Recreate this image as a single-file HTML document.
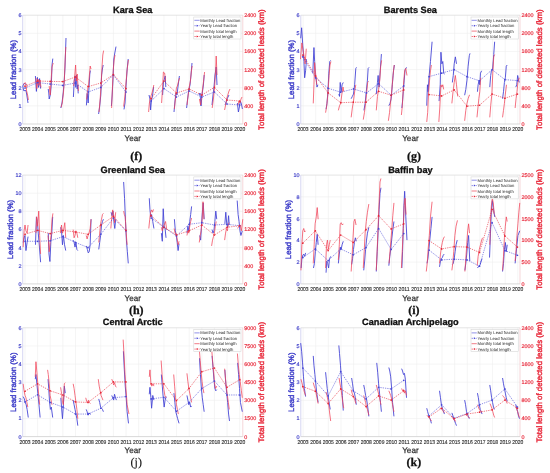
<!DOCTYPE html><html><head><meta charset="utf-8"><style>html,body{margin:0;padding:0;background:#fff;width:550px;height:473px;overflow:hidden}</style></head><body><svg width="550" height="473" viewBox="0 0 550 473" style="display:block" text-rendering="geometricPrecision">
<rect width="550" height="473" fill="#fff"/>
<g stroke="#efefef" stroke-width="0.6"><line x1="25" y1="15.2" x2="25" y2="124"/><line x1="37.63" y1="15.2" x2="37.63" y2="124"/><line x1="50.26" y1="15.2" x2="50.26" y2="124"/><line x1="62.89" y1="15.2" x2="62.89" y2="124"/><line x1="75.52" y1="15.2" x2="75.52" y2="124"/><line x1="88.15" y1="15.2" x2="88.15" y2="124"/><line x1="100.78" y1="15.2" x2="100.78" y2="124"/><line x1="113.41" y1="15.2" x2="113.41" y2="124"/><line x1="126.04" y1="15.2" x2="126.04" y2="124"/><line x1="138.67" y1="15.2" x2="138.67" y2="124"/><line x1="151.3" y1="15.2" x2="151.3" y2="124"/><line x1="163.93" y1="15.2" x2="163.93" y2="124"/><line x1="176.56" y1="15.2" x2="176.56" y2="124"/><line x1="189.19" y1="15.2" x2="189.19" y2="124"/><line x1="201.82" y1="15.2" x2="201.82" y2="124"/><line x1="214.45" y1="15.2" x2="214.45" y2="124"/><line x1="227.08" y1="15.2" x2="227.08" y2="124"/><line x1="239.71" y1="15.2" x2="239.71" y2="124"/><line x1="22.7" y1="105.87" x2="242.8" y2="105.87"/><line x1="22.7" y1="87.73" x2="242.8" y2="87.73"/><line x1="22.7" y1="69.6" x2="242.8" y2="69.6"/><line x1="22.7" y1="51.47" x2="242.8" y2="51.47"/><line x1="22.7" y1="33.33" x2="242.8" y2="33.33"/></g>
<line x1="22.7" y1="15.2" x2="242.8" y2="15.2" stroke="#d8d8d8" stroke-width="0.7"/>
<line x1="22.7" y1="124" x2="242.8" y2="124" stroke="#c8c8c8" stroke-width="0.7"/>
<line x1="22.7" y1="15.2" x2="22.7" y2="124" stroke="#c4c4ee" stroke-width="0.7"/>
<line x1="242.8" y1="15.2" x2="242.8" y2="124" stroke="#f0c4c8" stroke-width="0.7"/>
<polyline points="26.4,85 24.4,83 22.8,86 23.6,90.6 26,90.6 26.8,95 28,103" fill="none" stroke="#4646d6" stroke-width="0.9" stroke-linejoin="round"/>
<polyline points="35.4,76 36.4,91.4 37.4,77.4 38.6,87.4 39.6,78.6 40.6,88.6" fill="none" stroke="#4646d6" stroke-width="0.9" stroke-linejoin="round"/>
<polyline points="48.2,89 48.8,93 49.2,99 50.4,94.6 51.4,83 52,65 52.8,58.6" fill="none" stroke="#4646d6" stroke-width="0.9" stroke-linejoin="round"/>
<polyline points="60.8,108 62,103 63.2,93 64.2,81 65,67 66,38" fill="none" stroke="#4646d6" stroke-width="0.9" stroke-linejoin="round"/>
<polyline points="73.4,97 74.2,81.4 75,76 75.8,87.4 76.4,75 77.2,89 77.8,85 78.2,93.4" fill="none" stroke="#4646d6" stroke-width="0.9" stroke-linejoin="round"/>
<polyline points="86.4,105.4 87.2,93.4 88.2,103 89,87.4 89.8,74 90.4,70.6" fill="none" stroke="#4646d6" stroke-width="0.9" stroke-linejoin="round"/>
<polyline points="98.6,114 99.6,107 100.8,95 101.6,75 102.4,69 103.2,65" fill="none" stroke="#4646d6" stroke-width="0.9" stroke-linejoin="round"/>
<polyline points="111.4,106 112.2,95 113,79 113.8,59 114.8,53 116,46.6" fill="none" stroke="#4646d6" stroke-width="0.9" stroke-linejoin="round"/>
<polyline points="124,109.4 125,103 126,86 127,71 128.2,59" fill="none" stroke="#4646d6" stroke-width="0.9" stroke-linejoin="round"/>
<polyline points="149,95 150,99 150.6,110 151.4,101 152.6,95 153.6,87" fill="none" stroke="#4646d6" stroke-width="0.9" stroke-linejoin="round"/>
<polyline points="162.6,95 163.4,83 164.6,78 165.2,76 165.8,87" fill="none" stroke="#4646d6" stroke-width="0.9" stroke-linejoin="round"/>
<polyline points="174,112 175,101 176,93 177,95 178.2,85 179.4,76" fill="none" stroke="#4646d6" stroke-width="0.9" stroke-linejoin="round"/>
<polyline points="186.6,108 187.6,99 188.8,90 190,85 191,75 192,63" fill="none" stroke="#4646d6" stroke-width="0.9" stroke-linejoin="round"/>
<polyline points="199,95 200,93 201,106 202,95 203.4,85 204.2,75" fill="none" stroke="#4646d6" stroke-width="0.9" stroke-linejoin="round"/>
<polyline points="212,105 213,95 214,87 215,75 216.2,67 217,85" fill="none" stroke="#4646d6" stroke-width="0.9" stroke-linejoin="round"/>
<polyline points="225,105 226,103 227,99 228,97 229,95" fill="none" stroke="#4646d6" stroke-width="0.9" stroke-linejoin="round"/>
<polyline points="237.4,103 238.4,112 239.4,107 240.4,101 241.4,104 242.4,109" fill="none" stroke="#4646d6" stroke-width="0.9" stroke-linejoin="round"/>
<polyline points="23.6,84.6 25.2,82.6 26.8,85.4 26.4,90 27.6,95 28.4,100" fill="none" stroke="#f04458" stroke-width="0.95" stroke-linejoin="round" stroke-opacity="0.8"/>
<polyline points="36,78 36.8,88.6 38,79 39,85.4 40,80 41,87.4" fill="none" stroke="#f04458" stroke-width="0.95" stroke-linejoin="round" stroke-opacity="0.8"/>
<polyline points="49.2,86 49.6,90 50.2,95 51.2,79 52,67 53.2,63" fill="none" stroke="#f04458" stroke-width="0.95" stroke-linejoin="round" stroke-opacity="0.8"/>
<polyline points="61.2,107.4 62.4,102 63.6,91 64.4,79 65.2,59 65.8,47" fill="none" stroke="#f04458" stroke-width="0.95" stroke-linejoin="round" stroke-opacity="0.8"/>
<polyline points="73.6,86 74.6,77 75.6,65 76.4,81 77.2,74 78.4,91" fill="none" stroke="#f04458" stroke-width="0.95" stroke-linejoin="round" stroke-opacity="0.8"/>
<polyline points="86.6,99.4 87.6,89.4 88.6,85 89.4,75 90.2,66 91,69" fill="none" stroke="#f04458" stroke-width="0.95" stroke-linejoin="round" stroke-opacity="0.8"/>
<polyline points="99,112 100,101 101,87 102,67 102.8,55 103.6,50.6" fill="none" stroke="#f04458" stroke-width="0.95" stroke-linejoin="round" stroke-opacity="0.8"/>
<polyline points="111.6,108 112.4,89 113.2,71 114,61 115,55" fill="none" stroke="#f04458" stroke-width="0.95" stroke-linejoin="round" stroke-opacity="0.8"/>
<polyline points="123.6,106.6 124.8,97 126,83 127.2,69 128.4,60" fill="none" stroke="#f04458" stroke-width="0.95" stroke-linejoin="round" stroke-opacity="0.8"/>
<polyline points="148.6,112 149.4,103 150.6,97 152,93 153,89 153.8,85" fill="none" stroke="#f04458" stroke-width="0.95" stroke-linejoin="round" stroke-opacity="0.8"/>
<polyline points="161.6,103 162.6,87 163.4,72 164.6,73 165.6,81" fill="none" stroke="#f04458" stroke-width="0.95" stroke-linejoin="round" stroke-opacity="0.8"/>
<polyline points="174.4,109 175.4,99 176.4,88 177.4,86 178.6,81 179.6,78" fill="none" stroke="#f04458" stroke-width="0.95" stroke-linejoin="round" stroke-opacity="0.8"/>
<polyline points="187,105 188.2,95 189.2,87 190.4,81 191.4,71 192.2,66" fill="none" stroke="#f04458" stroke-width="0.95" stroke-linejoin="round" stroke-opacity="0.8"/>
<polyline points="199.4,99 200.6,105 201.6,97 202.6,89 203.8,79 204.6,72" fill="none" stroke="#f04458" stroke-width="0.95" stroke-linejoin="round" stroke-opacity="0.8"/>
<polyline points="212.2,108 213.4,99 214.6,87 215.6,71 216.2,56 217,75" fill="none" stroke="#f04458" stroke-width="0.95" stroke-linejoin="round" stroke-opacity="0.8"/>
<polyline points="224.6,110 225.6,105 226.6,99 227.8,95 229,91 230,89" fill="none" stroke="#f04458" stroke-width="0.95" stroke-linejoin="round" stroke-opacity="0.8"/>
<polyline points="238,105 239,101 240,103 241,99 242,97" fill="none" stroke="#f04458" stroke-width="0.95" stroke-linejoin="round" stroke-opacity="0.8"/>
<polyline points="25,88 37.6,82.6 50.2,84 62.8,85.4 75.4,83 88.2,92 100.8,87.4 113.4,75 126,92" fill="none" stroke="#4646d6" stroke-width="0.6" stroke-linejoin="round" stroke-dasharray="1.3 1"/>
<g fill="#4646d6"><circle cx="25" cy="88" r="0.85"/><circle cx="37.6" cy="82.6" r="0.85"/><circle cx="50.2" cy="84" r="0.85"/><circle cx="62.8" cy="85.4" r="0.85"/><circle cx="75.4" cy="83" r="0.85"/><circle cx="88.2" cy="92" r="0.85"/><circle cx="100.8" cy="87.4" r="0.85"/><circle cx="113.4" cy="75" r="0.85"/><circle cx="126" cy="92" r="0.85"/></g>
<polyline points="151.2,101 164,88.6 176.4,97 189.2,91 201.8,97 214.4,92 227,104 239.6,105" fill="none" stroke="#4646d6" stroke-width="0.6" stroke-linejoin="round" stroke-dasharray="1.3 1"/>
<g fill="#4646d6"><circle cx="151.2" cy="101" r="0.85"/><circle cx="164" cy="88.6" r="0.85"/><circle cx="176.4" cy="97" r="0.85"/><circle cx="189.2" cy="91" r="0.85"/><circle cx="201.8" cy="97" r="0.85"/><circle cx="214.4" cy="92" r="0.85"/><circle cx="227" cy="104" r="0.85"/><circle cx="239.6" cy="105" r="0.85"/></g>
<polyline points="25,86.2 37.6,81 50.2,81.4 62.8,81.6 75.4,77 88.2,86.6 100.8,83 113.4,74.6 126,88.6" fill="none" stroke="#e62535" stroke-width="0.6" stroke-linejoin="round" stroke-dasharray="1.3 1"/>
<g fill="#e62535"><circle cx="25" cy="86.2" r="0.85"/><circle cx="37.6" cy="81" r="0.85"/><circle cx="50.2" cy="81.4" r="0.85"/><circle cx="62.8" cy="81.6" r="0.85"/><circle cx="75.4" cy="77" r="0.85"/><circle cx="88.2" cy="86.6" r="0.85"/><circle cx="100.8" cy="83" r="0.85"/><circle cx="113.4" cy="74.6" r="0.85"/><circle cx="126" cy="88.6" r="0.85"/></g>
<polyline points="151.2,98.6 164,81 176.4,93 189.2,89 201.8,95 214.4,87.4 227,100 239.6,101" fill="none" stroke="#e62535" stroke-width="0.6" stroke-linejoin="round" stroke-dasharray="1.3 1"/>
<g fill="#e62535"><circle cx="151.2" cy="98.6" r="0.85"/><circle cx="164" cy="81" r="0.85"/><circle cx="176.4" cy="93" r="0.85"/><circle cx="189.2" cy="89" r="0.85"/><circle cx="201.8" cy="95" r="0.85"/><circle cx="214.4" cy="87.4" r="0.85"/><circle cx="227" cy="100" r="0.85"/><circle cx="239.6" cy="101" r="0.85"/></g>
<g font-family="Liberation Sans, sans-serif" font-size="5.6" fill="#333" stroke="#333" stroke-width="0.14" text-anchor="middle"><text x="25" y="131.3" textLength="11.1" lengthAdjust="spacingAndGlyphs">2003</text><text x="37.63" y="131.3" textLength="11.1" lengthAdjust="spacingAndGlyphs">2004</text><text x="50.26" y="131.3" textLength="11.1" lengthAdjust="spacingAndGlyphs">2005</text><text x="62.89" y="131.3" textLength="11.1" lengthAdjust="spacingAndGlyphs">2006</text><text x="75.52" y="131.3" textLength="11.1" lengthAdjust="spacingAndGlyphs">2007</text><text x="88.15" y="131.3" textLength="11.1" lengthAdjust="spacingAndGlyphs">2008</text><text x="100.78" y="131.3" textLength="11.1" lengthAdjust="spacingAndGlyphs">2009</text><text x="113.41" y="131.3" textLength="11.1" lengthAdjust="spacingAndGlyphs">2010</text><text x="126.04" y="131.3" textLength="11.1" lengthAdjust="spacingAndGlyphs">2011</text><text x="138.67" y="131.3" textLength="11.1" lengthAdjust="spacingAndGlyphs">2012</text><text x="151.3" y="131.3" textLength="11.1" lengthAdjust="spacingAndGlyphs">2013</text><text x="163.93" y="131.3" textLength="11.1" lengthAdjust="spacingAndGlyphs">2014</text><text x="176.56" y="131.3" textLength="11.1" lengthAdjust="spacingAndGlyphs">2015</text><text x="189.19" y="131.3" textLength="11.1" lengthAdjust="spacingAndGlyphs">2016</text><text x="201.82" y="131.3" textLength="11.1" lengthAdjust="spacingAndGlyphs">2017</text><text x="214.45" y="131.3" textLength="11.1" lengthAdjust="spacingAndGlyphs">2018</text><text x="227.08" y="131.3" textLength="11.1" lengthAdjust="spacingAndGlyphs">2019</text><text x="239.71" y="131.3" textLength="11.1" lengthAdjust="spacingAndGlyphs">2020</text></g>
<g font-family="Liberation Sans, sans-serif" font-size="5.4" fill="#3c3cc8" stroke="#3c3cc8" stroke-width="0.18" text-anchor="end"><text x="21.5" y="125.9">0</text><text x="21.5" y="107.77">1</text><text x="21.5" y="89.63">2</text><text x="21.5" y="71.5">3</text><text x="21.5" y="53.37">4</text><text x="21.5" y="35.23">5</text><text x="21.5" y="17.1">6</text></g>
<g font-family="Liberation Sans, sans-serif" font-size="5.4" fill="#e8283a" stroke="#e8283a" stroke-width="0.18"><text x="244.3" y="125.9">0</text><text x="244.3" y="107.77">400</text><text x="244.3" y="89.63">800</text><text x="244.3" y="71.5">1200</text><text x="244.3" y="53.37">1600</text><text x="244.3" y="35.23">2000</text><text x="244.3" y="17.1">2400</text></g>
<text x="132.75" y="12.7" font-family="Liberation Sans, sans-serif" font-size="9.2" font-weight="bold" text-anchor="middle" fill="#111" stroke="#111" stroke-width="0.3">Kara Sea</text>
<text x="132.75" y="140.8" font-family="Liberation Sans, sans-serif" font-size="8.1" text-anchor="middle" fill="#333" stroke="#333" stroke-width="0.25">Year</text>
<text transform="translate(15.5,69.6) rotate(-90)" font-family="Liberation Sans, sans-serif" font-size="7.8" text-anchor="middle" fill="#3c3cc8" stroke="#3c3cc8" stroke-width="0.4">Lead fraction (%)</text>
<text transform="translate(264.3,69.6) rotate(-90)" font-family="Liberation Sans, sans-serif" font-size="7.9" text-anchor="middle" fill="#e8283a" stroke="#e8283a" stroke-width="0.4">Total length of detected leads (km)</text>
<text x="136.25" y="159.6" font-family="Liberation Serif, serif" font-size="12" font-weight="bold" text-anchor="middle" fill="#111" stroke="#111" stroke-width="0.25">(f)</text>
<rect x="193.8" y="17" width="47.2" height="22" fill="#fff" stroke="#d0d0d0" stroke-width="0.5"/>
<line x1="194.4" y1="20.3" x2="199.6" y2="20.3" stroke="#4646d6" stroke-width="0.6"/>
<text x="200.3" y="21.8" font-family="Liberation Sans, sans-serif" font-size="4.2" fill="#2a2a2a">Monthly Lead fraction</text>
<line x1="194.4" y1="25.7" x2="199.6" y2="25.7" stroke="#4646d6" stroke-width="0.6" stroke-dasharray="1.4 0.8"/>
<path d="M196.7,24.7 L198.4,25.7 L196.7,26.7Z" fill="#4646d6"/>
<text x="200.3" y="27.2" font-family="Liberation Sans, sans-serif" font-size="4.2" fill="#2a2a2a">Yearly Lead fraction</text>
<line x1="194.4" y1="31.1" x2="199.6" y2="31.1" stroke="#e62535" stroke-width="0.6"/>
<text x="200.3" y="32.6" font-family="Liberation Sans, sans-serif" font-size="4.2" fill="#2a2a2a">Monthly total length</text>
<line x1="194.4" y1="36.5" x2="199.6" y2="36.5" stroke="#e62535" stroke-width="0.6" stroke-dasharray="1.4 0.8"/>
<path d="M196.7,35.5 L198.4,36.5 L196.7,37.5Z" fill="#e62535"/>
<text x="200.3" y="38" font-family="Liberation Sans, sans-serif" font-size="4.2" fill="#2a2a2a">Yearly total length</text>
<g stroke="#efefef" stroke-width="0.6"><line x1="303.1" y1="15.2" x2="303.1" y2="124"/><line x1="315.73" y1="15.2" x2="315.73" y2="124"/><line x1="328.36" y1="15.2" x2="328.36" y2="124"/><line x1="340.99" y1="15.2" x2="340.99" y2="124"/><line x1="353.62" y1="15.2" x2="353.62" y2="124"/><line x1="366.25" y1="15.2" x2="366.25" y2="124"/><line x1="378.88" y1="15.2" x2="378.88" y2="124"/><line x1="391.51" y1="15.2" x2="391.51" y2="124"/><line x1="404.14" y1="15.2" x2="404.14" y2="124"/><line x1="416.77" y1="15.2" x2="416.77" y2="124"/><line x1="429.4" y1="15.2" x2="429.4" y2="124"/><line x1="442.03" y1="15.2" x2="442.03" y2="124"/><line x1="454.66" y1="15.2" x2="454.66" y2="124"/><line x1="467.29" y1="15.2" x2="467.29" y2="124"/><line x1="479.92" y1="15.2" x2="479.92" y2="124"/><line x1="492.55" y1="15.2" x2="492.55" y2="124"/><line x1="505.18" y1="15.2" x2="505.18" y2="124"/><line x1="517.81" y1="15.2" x2="517.81" y2="124"/><line x1="300.8" y1="105.87" x2="520" y2="105.87"/><line x1="300.8" y1="87.73" x2="520" y2="87.73"/><line x1="300.8" y1="69.6" x2="520" y2="69.6"/><line x1="300.8" y1="51.47" x2="520" y2="51.47"/><line x1="300.8" y1="33.33" x2="520" y2="33.33"/></g>
<line x1="300.8" y1="15.2" x2="520" y2="15.2" stroke="#d8d8d8" stroke-width="0.7"/>
<line x1="300.8" y1="124" x2="520" y2="124" stroke="#c8c8c8" stroke-width="0.7"/>
<line x1="300.8" y1="15.2" x2="300.8" y2="124" stroke="#c4c4ee" stroke-width="0.7"/>
<line x1="520" y1="15.2" x2="520" y2="124" stroke="#f0c4c8" stroke-width="0.7"/>
<polyline points="300.7,38.26 301.63,27.79 302.79,45.23 303.95,61.51 304.65,77.79 305.58,70.81 306.51,59.19" fill="none" stroke="#4646d6" stroke-width="0.9" stroke-linejoin="round"/>
<polyline points="312.79,73.14 313.95,47.56 314.65,61.51 315.35,75.47 316.28,80.12 316.98,87.09 317.91,84.77" fill="none" stroke="#4646d6" stroke-width="0.9" stroke-linejoin="round"/>
<polyline points="326.05,109.19 326.98,103.37 327.91,91.74 328.84,73.14 329.77,61.51 330.7,60.35" fill="none" stroke="#4646d6" stroke-width="0.9" stroke-linejoin="round"/>
<polyline points="338.84,94.07 339.53,96.4 340.23,82.44 341.16,91.74 342.09,84.77 343.26,82.44" fill="none" stroke="#4646d6" stroke-width="0.9" stroke-linejoin="round"/>
<polyline points="351.16,98.72 352.33,96.4 353.49,94.07 354.65,84.77 355.81,68.49 356.51,67.33" fill="none" stroke="#4646d6" stroke-width="0.9" stroke-linejoin="round"/>
<polyline points="363.95,110.35 365.12,103.37 366.28,91.74 367.44,80.12 368.14,68.49 369.07,67.33" fill="none" stroke="#4646d6" stroke-width="0.9" stroke-linejoin="round"/>
<polyline points="376.28,94.07 377.44,82.44 378.14,75.47 379.07,87.09 380.23,70.81 381.4,54.07" fill="none" stroke="#4646d6" stroke-width="0.9" stroke-linejoin="round"/>
<polyline points="388.84,105.7 390,103.37 391.16,98.72 392.33,84.77 393.49,70.81 394.42,65" fill="none" stroke="#4646d6" stroke-width="0.9" stroke-linejoin="round"/>
<polyline points="401.86,108.02 402.56,101.05 403.26,91.74 404.19,80.12 405.12,69.65 406.51,67.33" fill="none" stroke="#4646d6" stroke-width="0.9" stroke-linejoin="round"/>
<polyline points="426.74,105.7 427.44,84.77 428.14,91.74 429.07,76.63 430.47,61.51 432.09,41.74" fill="none" stroke="#4646d6" stroke-width="0.9" stroke-linejoin="round"/>
<polyline points="439.07,101.05 440.23,84.77 440.93,52.21 441.86,63.84 442.79,61.51 443.72,73.14 444.42,74.3" fill="none" stroke="#4646d6" stroke-width="0.9" stroke-linejoin="round"/>
<polyline points="452.33,82.44 453.26,75.47 454.19,63.84 455.35,56.86 456.51,63.84" fill="none" stroke="#4646d6" stroke-width="0.9" stroke-linejoin="round"/>
<polyline points="464.65,95.23 465.81,89.42 466.98,80.12 468.14,66.16 469.3,55.7 470,53.37" fill="none" stroke="#4646d6" stroke-width="0.9" stroke-linejoin="round"/>
<polyline points="477.44,91.74 478.14,84.77 479.07,80.12 479.77,84.77 480.47,73.14 481.63,70.81" fill="none" stroke="#4646d6" stroke-width="0.9" stroke-linejoin="round"/>
<polyline points="489.77,87.09 490.7,75.47 491.4,70.81 492.56,69.65 493.72,54.53 494.65,41.74" fill="none" stroke="#4646d6" stroke-width="0.9" stroke-linejoin="round"/>
<polyline points="502.56,98.72 503.49,91.74 504.42,82.44 505.35,77.79 506.28,66.16 507.21,65" fill="none" stroke="#4646d6" stroke-width="0.9" stroke-linejoin="round"/>
<polyline points="515.81,87.09 516.74,84.77 517.67,75.47 518.6,80.12 519.3,82.44" fill="none" stroke="#4646d6" stroke-width="0.9" stroke-linejoin="round"/>
<polyline points="300.47,59.19 301.86,42.91 303.02,49.88 304.19,56.86 305.12,63.84 306.28,48.72" fill="none" stroke="#f04458" stroke-width="0.95" stroke-linejoin="round" stroke-opacity="0.8"/>
<polyline points="313.26,103.37 313.95,84.77 314.65,62.67 315.35,70.81 316.05,77.79 316.74,84.77" fill="none" stroke="#f04458" stroke-width="0.95" stroke-linejoin="round" stroke-opacity="0.8"/>
<polyline points="325.58,112.67 326.74,105.7 327.91,94.07 329.07,75.47 330,65 330.93,61.51" fill="none" stroke="#f04458" stroke-width="0.95" stroke-linejoin="round" stroke-opacity="0.8"/>
<polyline points="338.37,110.35 339.53,105.7 340.7,103.37 341.86,94.07 343.02,87.09 343.72,91.74" fill="none" stroke="#f04458" stroke-width="0.95" stroke-linejoin="round" stroke-opacity="0.8"/>
<polyline points="351.16,117.33 352.33,108.02 353.49,101.05 354.65,91.74 355.81,84.77" fill="none" stroke="#f04458" stroke-width="0.95" stroke-linejoin="round" stroke-opacity="0.8"/>
<polyline points="363.26,119.65 364.42,112.67 365.58,103.37 366.74,91.74 367.67,82.44 368.6,81.28" fill="none" stroke="#f04458" stroke-width="0.95" stroke-linejoin="round" stroke-opacity="0.8"/>
<polyline points="376.28,110.35 377.44,96.4 378.6,89.42 379.77,80.12 380.7,66.16 381.63,60.35" fill="none" stroke="#f04458" stroke-width="0.95" stroke-linejoin="round" stroke-opacity="0.8"/>
<polyline points="388.37,120.81 389.53,112.67 390.7,101.05 391.86,89.42 393.02,75.47 394.19,65" fill="none" stroke="#f04458" stroke-width="0.95" stroke-linejoin="round" stroke-opacity="0.8"/>
<polyline points="401.4,115 402.33,105.7 403.49,84.77 404.65,70.81 405.81,68.49 406.98,75.47" fill="none" stroke="#f04458" stroke-width="0.95" stroke-linejoin="round" stroke-opacity="0.8"/>
<polyline points="426.74,121.98 427.67,112.67 428.6,91.74 429.77,77.79 430.47,70.81 431.4,65" fill="none" stroke="#f04458" stroke-width="0.95" stroke-linejoin="round" stroke-opacity="0.8"/>
<polyline points="438.84,121.98 439.77,108.02 440.93,84.77 441.86,87.09 442.79,84.77 443.72,89.42" fill="none" stroke="#f04458" stroke-width="0.95" stroke-linejoin="round" stroke-opacity="0.8"/>
<polyline points="451.86,103.37 453.02,91.74 454.19,82.44 455.35,75.47 456.51,84.77 457.67,96.4" fill="none" stroke="#f04458" stroke-width="0.95" stroke-linejoin="round" stroke-opacity="0.8"/>
<polyline points="464.65,120.81 465.81,110.35 466.98,103.37 468.14,98.72 469.3,95.23 470,95.23" fill="none" stroke="#f04458" stroke-width="0.95" stroke-linejoin="round" stroke-opacity="0.8"/>
<polyline points="476.98,117.33 477.91,108.02 478.84,98.72 479.77,91.74 480.7,77.79" fill="none" stroke="#f04458" stroke-width="0.95" stroke-linejoin="round" stroke-opacity="0.8"/>
<polyline points="489.77,117.33 490.7,105.7 491.86,94.07 492.79,73.14 493.72,56.86 494.65,54.53" fill="none" stroke="#f04458" stroke-width="0.95" stroke-linejoin="round" stroke-opacity="0.8"/>
<polyline points="502.56,117.33 503.49,110.35 504.42,103.37 505.35,94.07 506.51,84.77" fill="none" stroke="#f04458" stroke-width="0.95" stroke-linejoin="round" stroke-opacity="0.8"/>
<polyline points="515.12,108.02 516.05,98.72 516.98,91.74 517.91,82.44 519.3,77.79" fill="none" stroke="#f04458" stroke-width="0.95" stroke-linejoin="round" stroke-opacity="0.8"/>
<polyline points="302.79,56.86 315.58,77.79 328.14,88.26 340.7,92.21 353.49,88.95 366.51,92.91 378.6,83.6 391.16,95.23 403.72,85.93" fill="none" stroke="#4646d6" stroke-width="0.6" stroke-linejoin="round" stroke-dasharray="1.3 1"/>
<g fill="#4646d6"><circle cx="302.79" cy="56.86" r="0.85"/><circle cx="315.58" cy="77.79" r="0.85"/><circle cx="328.14" cy="88.26" r="0.85"/><circle cx="340.7" cy="92.21" r="0.85"/><circle cx="353.49" cy="88.95" r="0.85"/><circle cx="366.51" cy="92.91" r="0.85"/><circle cx="378.6" cy="83.6" r="0.85"/><circle cx="391.16" cy="95.23" r="0.85"/><circle cx="403.72" cy="85.93" r="0.85"/></g>
<polyline points="429.07,76.63 441.63,73.14 454.19,69.65 466.98,76.63 479.53,80.81 492.09,69.65 504.88,79.65 517.44,80.58" fill="none" stroke="#4646d6" stroke-width="0.6" stroke-linejoin="round" stroke-dasharray="1.3 1"/>
<g fill="#4646d6"><circle cx="429.07" cy="76.63" r="0.85"/><circle cx="441.63" cy="73.14" r="0.85"/><circle cx="454.19" cy="69.65" r="0.85"/><circle cx="466.98" cy="76.63" r="0.85"/><circle cx="479.53" cy="80.81" r="0.85"/><circle cx="492.09" cy="69.65" r="0.85"/><circle cx="504.88" cy="79.65" r="0.85"/><circle cx="517.44" cy="80.58" r="0.85"/></g>
<polyline points="302.79,55 315.58,75.93 328.14,92.91 340.7,102.67 353.26,102.21 366.05,102.21 378.6,91.28 391.16,95.23 403.72,89.88" fill="none" stroke="#e62535" stroke-width="0.6" stroke-linejoin="round" stroke-dasharray="1.3 1"/>
<g fill="#e62535"><circle cx="302.79" cy="55" r="0.85"/><circle cx="315.58" cy="75.93" r="0.85"/><circle cx="328.14" cy="92.91" r="0.85"/><circle cx="340.7" cy="102.67" r="0.85"/><circle cx="353.26" cy="102.21" r="0.85"/><circle cx="366.05" cy="102.21" r="0.85"/><circle cx="378.6" cy="91.28" r="0.85"/><circle cx="391.16" cy="95.23" r="0.85"/><circle cx="403.72" cy="89.88" r="0.85"/></g>
<polyline points="429.07,94.53 441.63,95.93 454.19,89.88 466.98,106.16 479.53,105.23 492.09,94.07 504.88,98.26 517.44,94.07" fill="none" stroke="#e62535" stroke-width="0.6" stroke-linejoin="round" stroke-dasharray="1.3 1"/>
<g fill="#e62535"><circle cx="429.07" cy="94.53" r="0.85"/><circle cx="441.63" cy="95.93" r="0.85"/><circle cx="454.19" cy="89.88" r="0.85"/><circle cx="466.98" cy="106.16" r="0.85"/><circle cx="479.53" cy="105.23" r="0.85"/><circle cx="492.09" cy="94.07" r="0.85"/><circle cx="504.88" cy="98.26" r="0.85"/><circle cx="517.44" cy="94.07" r="0.85"/></g>
<g font-family="Liberation Sans, sans-serif" font-size="5.6" fill="#333" stroke="#333" stroke-width="0.14" text-anchor="middle"><text x="303.1" y="131.3" textLength="11.1" lengthAdjust="spacingAndGlyphs">2003</text><text x="315.73" y="131.3" textLength="11.1" lengthAdjust="spacingAndGlyphs">2004</text><text x="328.36" y="131.3" textLength="11.1" lengthAdjust="spacingAndGlyphs">2005</text><text x="340.99" y="131.3" textLength="11.1" lengthAdjust="spacingAndGlyphs">2006</text><text x="353.62" y="131.3" textLength="11.1" lengthAdjust="spacingAndGlyphs">2007</text><text x="366.25" y="131.3" textLength="11.1" lengthAdjust="spacingAndGlyphs">2008</text><text x="378.88" y="131.3" textLength="11.1" lengthAdjust="spacingAndGlyphs">2009</text><text x="391.51" y="131.3" textLength="11.1" lengthAdjust="spacingAndGlyphs">2010</text><text x="404.14" y="131.3" textLength="11.1" lengthAdjust="spacingAndGlyphs">2011</text><text x="416.77" y="131.3" textLength="11.1" lengthAdjust="spacingAndGlyphs">2012</text><text x="429.4" y="131.3" textLength="11.1" lengthAdjust="spacingAndGlyphs">2013</text><text x="442.03" y="131.3" textLength="11.1" lengthAdjust="spacingAndGlyphs">2014</text><text x="454.66" y="131.3" textLength="11.1" lengthAdjust="spacingAndGlyphs">2015</text><text x="467.29" y="131.3" textLength="11.1" lengthAdjust="spacingAndGlyphs">2016</text><text x="479.92" y="131.3" textLength="11.1" lengthAdjust="spacingAndGlyphs">2017</text><text x="492.55" y="131.3" textLength="11.1" lengthAdjust="spacingAndGlyphs">2018</text><text x="505.18" y="131.3" textLength="11.1" lengthAdjust="spacingAndGlyphs">2019</text><text x="517.81" y="131.3" textLength="11.1" lengthAdjust="spacingAndGlyphs">2020</text></g>
<g font-family="Liberation Sans, sans-serif" font-size="5.4" fill="#3c3cc8" stroke="#3c3cc8" stroke-width="0.18" text-anchor="end"><text x="299.6" y="125.9">0</text><text x="299.6" y="107.77">1</text><text x="299.6" y="89.63">2</text><text x="299.6" y="71.5">3</text><text x="299.6" y="53.37">4</text><text x="299.6" y="35.23">5</text><text x="299.6" y="17.1">6</text></g>
<g font-family="Liberation Sans, sans-serif" font-size="5.4" fill="#e8283a" stroke="#e8283a" stroke-width="0.18"><text x="521.5" y="125.9">0</text><text x="521.5" y="107.77">400</text><text x="521.5" y="89.63">800</text><text x="521.5" y="71.5">1200</text><text x="521.5" y="53.37">1600</text><text x="521.5" y="35.23">2000</text><text x="521.5" y="17.1">2400</text></g>
<text x="410.4" y="12.7" font-family="Liberation Sans, sans-serif" font-size="9.2" font-weight="bold" text-anchor="middle" fill="#111" stroke="#111" stroke-width="0.3">Barents Sea</text>
<text x="410.4" y="140.8" font-family="Liberation Sans, sans-serif" font-size="8.1" text-anchor="middle" fill="#333" stroke="#333" stroke-width="0.25">Year</text>
<text transform="translate(293.6,69.6) rotate(-90)" font-family="Liberation Sans, sans-serif" font-size="7.8" text-anchor="middle" fill="#3c3cc8" stroke="#3c3cc8" stroke-width="0.4">Lead fraction (%)</text>
<text transform="translate(541.5,69.6) rotate(-90)" font-family="Liberation Sans, sans-serif" font-size="7.9" text-anchor="middle" fill="#e8283a" stroke="#e8283a" stroke-width="0.4">Total length of detected leads (km)</text>
<text x="413.9" y="159.6" font-family="Liberation Serif, serif" font-size="12" font-weight="bold" text-anchor="middle" fill="#111" stroke="#111" stroke-width="0.25">(g)</text>
<rect x="471" y="17" width="47.2" height="22" fill="#fff" stroke="#d0d0d0" stroke-width="0.5"/>
<line x1="471.6" y1="20.3" x2="476.8" y2="20.3" stroke="#4646d6" stroke-width="0.6"/>
<text x="477.5" y="21.8" font-family="Liberation Sans, sans-serif" font-size="4.2" fill="#2a2a2a">Monthly Lead fraction</text>
<line x1="471.6" y1="25.7" x2="476.8" y2="25.7" stroke="#4646d6" stroke-width="0.6" stroke-dasharray="1.4 0.8"/>
<path d="M473.9,24.7 L475.6,25.7 L473.9,26.7Z" fill="#4646d6"/>
<text x="477.5" y="27.2" font-family="Liberation Sans, sans-serif" font-size="4.2" fill="#2a2a2a">Yearly Lead fraction</text>
<line x1="471.6" y1="31.1" x2="476.8" y2="31.1" stroke="#e62535" stroke-width="0.6"/>
<text x="477.5" y="32.6" font-family="Liberation Sans, sans-serif" font-size="4.2" fill="#2a2a2a">Monthly total length</text>
<line x1="471.6" y1="36.5" x2="476.8" y2="36.5" stroke="#e62535" stroke-width="0.6" stroke-dasharray="1.4 0.8"/>
<path d="M473.9,35.5 L475.6,36.5 L473.9,37.5Z" fill="#e62535"/>
<text x="477.5" y="38" font-family="Liberation Sans, sans-serif" font-size="4.2" fill="#2a2a2a">Yearly total length</text>
<g stroke="#efefef" stroke-width="0.6"><line x1="25" y1="175.1" x2="25" y2="283.9"/><line x1="37.63" y1="175.1" x2="37.63" y2="283.9"/><line x1="50.26" y1="175.1" x2="50.26" y2="283.9"/><line x1="62.89" y1="175.1" x2="62.89" y2="283.9"/><line x1="75.52" y1="175.1" x2="75.52" y2="283.9"/><line x1="88.15" y1="175.1" x2="88.15" y2="283.9"/><line x1="100.78" y1="175.1" x2="100.78" y2="283.9"/><line x1="113.41" y1="175.1" x2="113.41" y2="283.9"/><line x1="126.04" y1="175.1" x2="126.04" y2="283.9"/><line x1="138.67" y1="175.1" x2="138.67" y2="283.9"/><line x1="151.3" y1="175.1" x2="151.3" y2="283.9"/><line x1="163.93" y1="175.1" x2="163.93" y2="283.9"/><line x1="176.56" y1="175.1" x2="176.56" y2="283.9"/><line x1="189.19" y1="175.1" x2="189.19" y2="283.9"/><line x1="201.82" y1="175.1" x2="201.82" y2="283.9"/><line x1="214.45" y1="175.1" x2="214.45" y2="283.9"/><line x1="227.08" y1="175.1" x2="227.08" y2="283.9"/><line x1="239.71" y1="175.1" x2="239.71" y2="283.9"/><line x1="22.7" y1="265.77" x2="242.8" y2="265.77"/><line x1="22.7" y1="247.63" x2="242.8" y2="247.63"/><line x1="22.7" y1="229.5" x2="242.8" y2="229.5"/><line x1="22.7" y1="211.37" x2="242.8" y2="211.37"/><line x1="22.7" y1="193.23" x2="242.8" y2="193.23"/></g>
<line x1="22.7" y1="175.1" x2="242.8" y2="175.1" stroke="#d8d8d8" stroke-width="0.7"/>
<line x1="22.7" y1="283.9" x2="242.8" y2="283.9" stroke="#c8c8c8" stroke-width="0.7"/>
<line x1="22.7" y1="175.1" x2="22.7" y2="283.9" stroke="#c4c4ee" stroke-width="0.7"/>
<line x1="242.8" y1="175.1" x2="242.8" y2="283.9" stroke="#f0c4c8" stroke-width="0.7"/>
<polyline points="23.16,242.44 24.09,237.79 25.02,235.47 25.95,250.58 27.12,242.44 28.05,236.63" fill="none" stroke="#4646d6" stroke-width="0.9" stroke-linejoin="round"/>
<polyline points="35.49,244.77 36.42,216.86 37.35,221.51 38.28,233.14 39.44,247.09 40.6,262.21" fill="none" stroke="#4646d6" stroke-width="0.9" stroke-linejoin="round"/>
<polyline points="48.28,233.14 48.98,254.07 49.91,261.51 50.84,242.44 51.77,233.14 52.7,216.86" fill="none" stroke="#4646d6" stroke-width="0.9" stroke-linejoin="round"/>
<polyline points="60.6,227.33 61.53,230.81 62.47,244.77 63.4,235.47 64.56,244.77 65.72,250.58" fill="none" stroke="#4646d6" stroke-width="0.9" stroke-linejoin="round"/>
<polyline points="73.16,240.12 74.09,242.44 75.02,247.09 75.95,242.44 76.88,249.42 77.81,250.58" fill="none" stroke="#4646d6" stroke-width="0.9" stroke-linejoin="round"/>
<polyline points="86.42,245.93 87.35,249.42 88.28,252.91 89.21,251.74 90.14,244.77 91.07,219.19" fill="none" stroke="#4646d6" stroke-width="0.9" stroke-linejoin="round"/>
<polyline points="98.74,249.42 99.67,242.44 100.6,235.47 101.53,225 102.47,221.51 103.4,219.19" fill="none" stroke="#4646d6" stroke-width="0.9" stroke-linejoin="round"/>
<polyline points="111.07,212.21 112,215.7 112.93,211.05 113.86,221.51 114.79,228.49 115.72,219.19" fill="none" stroke="#4646d6" stroke-width="0.9" stroke-linejoin="round"/>
<polyline points="123.63,181.98 124.56,198.26 125.49,221.51 126.42,240.12 127.35,251.74 128.28,263.37" fill="none" stroke="#4646d6" stroke-width="0.9" stroke-linejoin="round"/>
<polyline points="149.28,198.26 149.98,209.88 150.67,216.86 151.6,214.53 152.77,221.51 153.93,228.49" fill="none" stroke="#4646d6" stroke-width="0.9" stroke-linejoin="round"/>
<polyline points="161.37,233.14 162.3,241.28 163.23,208.72 164.16,226.16 165.09,228.49 166.02,237.79" fill="none" stroke="#4646d6" stroke-width="0.9" stroke-linejoin="round"/>
<polyline points="174.4,219.19 175.33,230.81 176.26,235.47 177.19,242.44 178.12,250.58 179.05,243.6" fill="none" stroke="#4646d6" stroke-width="0.9" stroke-linejoin="round"/>
<polyline points="186.95,233.14 187.88,226.16 188.81,230.81 189.74,221.51 190.67,214.53 191.6,206.4" fill="none" stroke="#4646d6" stroke-width="0.9" stroke-linejoin="round"/>
<polyline points="199.74,235.47 200.67,240.12 201.6,223.84 202.53,209.88 203.23,202.91 204.16,219.19" fill="none" stroke="#4646d6" stroke-width="0.9" stroke-linejoin="round"/>
<polyline points="212.07,229.65 213,233.14 213.93,230.81 214.86,221.51 215.79,211.05 216.72,219.19" fill="none" stroke="#4646d6" stroke-width="0.9" stroke-linejoin="round"/>
<polyline points="224.86,223.84 225.79,212.21 226.72,223.84 227.65,227.33 228.58,215.7 229.28,225" fill="none" stroke="#4646d6" stroke-width="0.9" stroke-linejoin="round"/>
<polyline points="237.19,200.58 238.12,214.53 239.05,221.51 239.98,230.81 240.91,235.47 242.3,230.81" fill="none" stroke="#4646d6" stroke-width="0.9" stroke-linejoin="round"/>
<polyline points="23.16,247.09 24.09,230.81 25.02,225 25.95,230.81 27.12,233.14 28.05,225" fill="none" stroke="#f04458" stroke-width="0.95" stroke-linejoin="round" stroke-opacity="0.8"/>
<polyline points="35.95,233.14 36.65,216.86 37.58,226.16 38.74,211.05 39.67,235.47 40.6,254.07" fill="none" stroke="#f04458" stroke-width="0.95" stroke-linejoin="round" stroke-opacity="0.8"/>
<polyline points="48.05,235.47 49.21,251.74 50.14,242.44 51.07,235.47 52,219.19 52.93,213.37" fill="none" stroke="#f04458" stroke-width="0.95" stroke-linejoin="round" stroke-opacity="0.8"/>
<polyline points="60.37,233.14 61.53,225 62.47,233.14 63.63,229.65 64.79,222.67 65.72,237.79" fill="none" stroke="#f04458" stroke-width="0.95" stroke-linejoin="round" stroke-opacity="0.8"/>
<polyline points="73.16,229.65 74.09,237.79 75.02,235.47 75.95,230.81 76.88,233.14 77.81,237.79" fill="none" stroke="#f04458" stroke-width="0.95" stroke-linejoin="round" stroke-opacity="0.8"/>
<polyline points="86.19,235.47 87.12,238.95 88.05,235.47 88.98,233.14 90.14,228.49 91.07,219.19" fill="none" stroke="#f04458" stroke-width="0.95" stroke-linejoin="round" stroke-opacity="0.8"/>
<polyline points="98.74,242.44 99.67,233.14 100.6,223.84 101.53,219.19 102.47,214.53 103.4,213.37" fill="none" stroke="#f04458" stroke-width="0.95" stroke-linejoin="round" stroke-opacity="0.8"/>
<polyline points="110.84,228.49 111.77,216.86 112.7,209.88 113.63,214.53 114.56,222.67 115.72,212.21" fill="none" stroke="#f04458" stroke-width="0.95" stroke-linejoin="round" stroke-opacity="0.8"/>
<polyline points="123.63,211.05 124.33,214.53 125.26,216.86 126.19,233.14 127.12,244.77" fill="none" stroke="#f04458" stroke-width="0.95" stroke-linejoin="round" stroke-opacity="0.8"/>
<polyline points="148.81,228.49 149.74,219.19 150.67,212.21 151.6,209.88 152.53,212.21 153.47,209.42" fill="none" stroke="#f04458" stroke-width="0.95" stroke-linejoin="round" stroke-opacity="0.8"/>
<polyline points="161.37,227.33 162.3,230.81 163.23,226.16 164.16,225 165.56,221.51 166.72,229.65" fill="none" stroke="#f04458" stroke-width="0.95" stroke-linejoin="round" stroke-opacity="0.8"/>
<polyline points="174.16,228.49 175.09,233.14 176.02,233.14 177.19,238.95 178.12,244.77 179.05,241.28" fill="none" stroke="#f04458" stroke-width="0.95" stroke-linejoin="round" stroke-opacity="0.8"/>
<polyline points="186.95,235.47 187.88,230.81 188.81,233.14 189.74,226.16 190.67,221.51 191.6,218.02" fill="none" stroke="#f04458" stroke-width="0.95" stroke-linejoin="round" stroke-opacity="0.8"/>
<polyline points="199.28,242.44 200.21,235.47 201.14,230.81 202.07,221.51 203,201.74 203.93,219.19" fill="none" stroke="#f04458" stroke-width="0.95" stroke-linejoin="round" stroke-opacity="0.8"/>
<polyline points="211.6,245.93 212.53,240.12 213.47,236.63 214.4,233.14 215.33,226.16 216.26,221.51" fill="none" stroke="#f04458" stroke-width="0.95" stroke-linejoin="round" stroke-opacity="0.8"/>
<polyline points="224.63,240.12 225.56,233.14 226.49,228.49 227.42,230.81 228.35,223.84 229.28,222.67" fill="none" stroke="#f04458" stroke-width="0.95" stroke-linejoin="round" stroke-opacity="0.8"/>
<polyline points="237.65,228.49 238.81,226.16 239.98,225 241.37,230.81 242.77,219.19" fill="none" stroke="#f04458" stroke-width="0.95" stroke-linejoin="round" stroke-opacity="0.8"/>
<polyline points="25.02,241.28 37.58,241.28 50.14,240.81 62.93,236.63 75.49,242.44 88.05,247.56 100.84,234.3 113.4,218.02 125.95,230.81" fill="none" stroke="#4646d6" stroke-width="0.6" stroke-linejoin="round" stroke-dasharray="1.3 1"/>
<g fill="#4646d6"><circle cx="25.02" cy="241.28" r="0.85"/><circle cx="37.58" cy="241.28" r="0.85"/><circle cx="50.14" cy="240.81" r="0.85"/><circle cx="62.93" cy="236.63" r="0.85"/><circle cx="75.49" cy="242.44" r="0.85"/><circle cx="88.05" cy="247.56" r="0.85"/><circle cx="100.84" cy="234.3" r="0.85"/><circle cx="113.4" cy="218.02" r="0.85"/><circle cx="125.95" cy="230.81" r="0.85"/></g>
<polyline points="151.14,218.02 163.93,227.33 176.49,235.93 189.05,224.3 201.84,222.67 214.4,225 226.95,224.3 239.74,225.7" fill="none" stroke="#4646d6" stroke-width="0.6" stroke-linejoin="round" stroke-dasharray="1.3 1"/>
<g fill="#4646d6"><circle cx="151.14" cy="218.02" r="0.85"/><circle cx="163.93" cy="227.33" r="0.85"/><circle cx="176.49" cy="235.93" r="0.85"/><circle cx="189.05" cy="224.3" r="0.85"/><circle cx="201.84" cy="222.67" r="0.85"/><circle cx="214.4" cy="225" r="0.85"/><circle cx="226.95" cy="224.3" r="0.85"/><circle cx="239.74" cy="225.7" r="0.85"/></g>
<polyline points="25.02,234.3 37.58,230.35 50.14,233.6 62.93,230.35 75.49,231.98 88.05,234.3 100.84,225 113.4,216.4 125.95,230.35" fill="none" stroke="#e62535" stroke-width="0.6" stroke-linejoin="round" stroke-dasharray="1.3 1"/>
<g fill="#e62535"><circle cx="25.02" cy="234.3" r="0.85"/><circle cx="37.58" cy="230.35" r="0.85"/><circle cx="50.14" cy="233.6" r="0.85"/><circle cx="62.93" cy="230.35" r="0.85"/><circle cx="75.49" cy="231.98" r="0.85"/><circle cx="88.05" cy="234.3" r="0.85"/><circle cx="100.84" cy="225" r="0.85"/><circle cx="113.4" cy="216.4" r="0.85"/><circle cx="125.95" cy="230.35" r="0.85"/></g>
<polyline points="151.14,215.7 163.93,227.33 176.49,235 189.05,230.81 201.84,225 214.4,235 226.95,227.33 239.74,225.7" fill="none" stroke="#e62535" stroke-width="0.6" stroke-linejoin="round" stroke-dasharray="1.3 1"/>
<g fill="#e62535"><circle cx="151.14" cy="215.7" r="0.85"/><circle cx="163.93" cy="227.33" r="0.85"/><circle cx="176.49" cy="235" r="0.85"/><circle cx="189.05" cy="230.81" r="0.85"/><circle cx="201.84" cy="225" r="0.85"/><circle cx="214.4" cy="235" r="0.85"/><circle cx="226.95" cy="227.33" r="0.85"/><circle cx="239.74" cy="225.7" r="0.85"/></g>
<g font-family="Liberation Sans, sans-serif" font-size="5.6" fill="#333" stroke="#333" stroke-width="0.14" text-anchor="middle"><text x="25" y="291.2" textLength="11.1" lengthAdjust="spacingAndGlyphs">2003</text><text x="37.63" y="291.2" textLength="11.1" lengthAdjust="spacingAndGlyphs">2004</text><text x="50.26" y="291.2" textLength="11.1" lengthAdjust="spacingAndGlyphs">2005</text><text x="62.89" y="291.2" textLength="11.1" lengthAdjust="spacingAndGlyphs">2006</text><text x="75.52" y="291.2" textLength="11.1" lengthAdjust="spacingAndGlyphs">2007</text><text x="88.15" y="291.2" textLength="11.1" lengthAdjust="spacingAndGlyphs">2008</text><text x="100.78" y="291.2" textLength="11.1" lengthAdjust="spacingAndGlyphs">2009</text><text x="113.41" y="291.2" textLength="11.1" lengthAdjust="spacingAndGlyphs">2010</text><text x="126.04" y="291.2" textLength="11.1" lengthAdjust="spacingAndGlyphs">2011</text><text x="138.67" y="291.2" textLength="11.1" lengthAdjust="spacingAndGlyphs">2012</text><text x="151.3" y="291.2" textLength="11.1" lengthAdjust="spacingAndGlyphs">2013</text><text x="163.93" y="291.2" textLength="11.1" lengthAdjust="spacingAndGlyphs">2014</text><text x="176.56" y="291.2" textLength="11.1" lengthAdjust="spacingAndGlyphs">2015</text><text x="189.19" y="291.2" textLength="11.1" lengthAdjust="spacingAndGlyphs">2016</text><text x="201.82" y="291.2" textLength="11.1" lengthAdjust="spacingAndGlyphs">2017</text><text x="214.45" y="291.2" textLength="11.1" lengthAdjust="spacingAndGlyphs">2018</text><text x="227.08" y="291.2" textLength="11.1" lengthAdjust="spacingAndGlyphs">2019</text><text x="239.71" y="291.2" textLength="11.1" lengthAdjust="spacingAndGlyphs">2020</text></g>
<g font-family="Liberation Sans, sans-serif" font-size="5.4" fill="#3c3cc8" stroke="#3c3cc8" stroke-width="0.18" text-anchor="end"><text x="21.5" y="285.8">0</text><text x="21.5" y="267.67">2</text><text x="21.5" y="249.53">4</text><text x="21.5" y="231.4">6</text><text x="21.5" y="213.27">8</text><text x="21.5" y="195.13">10</text><text x="21.5" y="177">12</text></g>
<g font-family="Liberation Sans, sans-serif" font-size="5.4" fill="#e8283a" stroke="#e8283a" stroke-width="0.18"><text x="244.3" y="285.8">0</text><text x="244.3" y="267.67">400</text><text x="244.3" y="249.53">800</text><text x="244.3" y="231.4">1200</text><text x="244.3" y="213.27">1600</text><text x="244.3" y="195.13">2000</text><text x="244.3" y="177">2400</text></g>
<text x="132.75" y="172.6" font-family="Liberation Sans, sans-serif" font-size="9.2" font-weight="bold" text-anchor="middle" fill="#111" stroke="#111" stroke-width="0.3">Greenland Sea</text>
<text x="132.75" y="300.7" font-family="Liberation Sans, sans-serif" font-size="8.1" text-anchor="middle" fill="#333" stroke="#333" stroke-width="0.25">Year</text>
<text transform="translate(12.6,229.5) rotate(-90)" font-family="Liberation Sans, sans-serif" font-size="7.8" text-anchor="middle" fill="#3c3cc8" stroke="#3c3cc8" stroke-width="0.4">Lead fraction (%)</text>
<text transform="translate(264.3,229.5) rotate(-90)" font-family="Liberation Sans, sans-serif" font-size="7.9" text-anchor="middle" fill="#e8283a" stroke="#e8283a" stroke-width="0.4">Total length of detected leads (km)</text>
<text x="136.25" y="313.6" font-family="Liberation Serif, serif" font-size="12" font-weight="bold" text-anchor="middle" fill="#111" stroke="#111" stroke-width="0.25">(h)</text>
<rect x="193.8" y="176.9" width="47.2" height="22" fill="#fff" stroke="#d0d0d0" stroke-width="0.5"/>
<line x1="194.4" y1="180.2" x2="199.6" y2="180.2" stroke="#4646d6" stroke-width="0.6"/>
<text x="200.3" y="181.7" font-family="Liberation Sans, sans-serif" font-size="4.2" fill="#2a2a2a">Monthly Lead fraction</text>
<line x1="194.4" y1="185.6" x2="199.6" y2="185.6" stroke="#4646d6" stroke-width="0.6" stroke-dasharray="1.4 0.8"/>
<path d="M196.7,184.6 L198.4,185.6 L196.7,186.6Z" fill="#4646d6"/>
<text x="200.3" y="187.1" font-family="Liberation Sans, sans-serif" font-size="4.2" fill="#2a2a2a">Yearly Lead fraction</text>
<line x1="194.4" y1="191" x2="199.6" y2="191" stroke="#e62535" stroke-width="0.6"/>
<text x="200.3" y="192.5" font-family="Liberation Sans, sans-serif" font-size="4.2" fill="#2a2a2a">Monthly total length</text>
<line x1="194.4" y1="196.4" x2="199.6" y2="196.4" stroke="#e62535" stroke-width="0.6" stroke-dasharray="1.4 0.8"/>
<path d="M196.7,195.4 L198.4,196.4 L196.7,197.4Z" fill="#e62535"/>
<text x="200.3" y="197.9" font-family="Liberation Sans, sans-serif" font-size="4.2" fill="#2a2a2a">Yearly total length</text>
<g stroke="#efefef" stroke-width="0.6"><line x1="303.1" y1="175.1" x2="303.1" y2="283.9"/><line x1="315.73" y1="175.1" x2="315.73" y2="283.9"/><line x1="328.36" y1="175.1" x2="328.36" y2="283.9"/><line x1="340.99" y1="175.1" x2="340.99" y2="283.9"/><line x1="353.62" y1="175.1" x2="353.62" y2="283.9"/><line x1="366.25" y1="175.1" x2="366.25" y2="283.9"/><line x1="378.88" y1="175.1" x2="378.88" y2="283.9"/><line x1="391.51" y1="175.1" x2="391.51" y2="283.9"/><line x1="404.14" y1="175.1" x2="404.14" y2="283.9"/><line x1="416.77" y1="175.1" x2="416.77" y2="283.9"/><line x1="429.4" y1="175.1" x2="429.4" y2="283.9"/><line x1="442.03" y1="175.1" x2="442.03" y2="283.9"/><line x1="454.66" y1="175.1" x2="454.66" y2="283.9"/><line x1="467.29" y1="175.1" x2="467.29" y2="283.9"/><line x1="479.92" y1="175.1" x2="479.92" y2="283.9"/><line x1="492.55" y1="175.1" x2="492.55" y2="283.9"/><line x1="505.18" y1="175.1" x2="505.18" y2="283.9"/><line x1="517.81" y1="175.1" x2="517.81" y2="283.9"/><line x1="300.8" y1="262.14" x2="520" y2="262.14"/><line x1="300.8" y1="240.38" x2="520" y2="240.38"/><line x1="300.8" y1="218.62" x2="520" y2="218.62"/><line x1="300.8" y1="196.86" x2="520" y2="196.86"/></g>
<line x1="300.8" y1="175.1" x2="520" y2="175.1" stroke="#d8d8d8" stroke-width="0.7"/>
<line x1="300.8" y1="283.9" x2="520" y2="283.9" stroke="#c8c8c8" stroke-width="0.7"/>
<line x1="300.8" y1="175.1" x2="300.8" y2="283.9" stroke="#c4c4ee" stroke-width="0.7"/>
<line x1="520" y1="175.1" x2="520" y2="283.9" stroke="#f0c4c8" stroke-width="0.7"/>
<polyline points="301.16,268.02 301.86,258.72 302.79,255.23 303.72,254.07 304.65,256.4 305.58,252.91" fill="none" stroke="#4646d6" stroke-width="0.9" stroke-linejoin="round"/>
<polyline points="313.49,268.02 314.42,263.37 315.35,251.74 316.28,242.44 317.21,234.3 318.14,244.77" fill="none" stroke="#4646d6" stroke-width="0.9" stroke-linejoin="round"/>
<polyline points="326.05,272.67 326.74,261.05 327.67,263.37 328.6,268.02 329.53,258.72 330.7,256.4" fill="none" stroke="#4646d6" stroke-width="0.9" stroke-linejoin="round"/>
<polyline points="338.37,263.37 339.3,254.07 340.23,247.09 341.16,249.42 342.09,244.77 343.26,241.28" fill="none" stroke="#4646d6" stroke-width="0.9" stroke-linejoin="round"/>
<polyline points="351.63,264.53 352.56,258.72 353.49,249.42 354.42,242.44 355.35,237.79 356.28,241.28" fill="none" stroke="#4646d6" stroke-width="0.9" stroke-linejoin="round"/>
<polyline points="363.72,270.35 364.65,261.05 365.58,249.42 366.51,240.12 367.44,233.14 368.84,227.33" fill="none" stroke="#4646d6" stroke-width="0.9" stroke-linejoin="round"/>
<polyline points="376.28,271.51 377.21,251.74 378.14,230.81 379.07,209.88 380,193.6 380.93,187.79" fill="none" stroke="#4646d6" stroke-width="0.9" stroke-linejoin="round"/>
<polyline points="388.84,265.7 389.77,256.4 390.7,249.42 391.63,240.12 392.56,231.98 393.95,221.51" fill="none" stroke="#4646d6" stroke-width="0.9" stroke-linejoin="round"/>
<polyline points="401.86,268.02 402.56,251.74 403.26,228.49 403.95,205.23 404.65,191.28 405.81,216.86 406.98,240.12" fill="none" stroke="#4646d6" stroke-width="0.9" stroke-linejoin="round"/>
<polyline points="426.98,263.37 427.91,258.72 428.84,249.42 429.77,240.12 430.93,228.49 432.09,216.86" fill="none" stroke="#4646d6" stroke-width="0.9" stroke-linejoin="round"/>
<polyline points="439.53,266.86 440.47,261.05 441.4,258.72 442.33,257.56 443.26,255.23 444.19,254.07" fill="none" stroke="#4646d6" stroke-width="0.9" stroke-linejoin="round"/>
<polyline points="452.33,264.53 453.26,263.37 454.19,258.72 455.12,251.74 456.05,244.77 457.21,240.12" fill="none" stroke="#4646d6" stroke-width="0.9" stroke-linejoin="round"/>
<polyline points="464.88,270.35 465.81,263.37 466.74,254.07 467.67,242.44 468.6,235.47 469.77,261.05" fill="none" stroke="#4646d6" stroke-width="0.9" stroke-linejoin="round"/>
<polyline points="477.44,268.02 478.37,266.86 479.3,265.7 480.23,264.53 481.16,261.05 482.09,258.72" fill="none" stroke="#4646d6" stroke-width="0.9" stroke-linejoin="round"/>
<polyline points="489.53,257.56 490.47,233.14 491.4,209.88 492.33,200.58 493.26,207.56 494.65,216.86" fill="none" stroke="#4646d6" stroke-width="0.9" stroke-linejoin="round"/>
<polyline points="502.56,271.51 503.49,263.37 504.42,249.42 505.35,242.44 506.28,251.74 507.21,244.77" fill="none" stroke="#4646d6" stroke-width="0.9" stroke-linejoin="round"/>
<polyline points="515.12,263.37 516.05,254.07 516.98,244.77 517.91,235.47 518.84,233.14 519.77,230.81" fill="none" stroke="#4646d6" stroke-width="0.9" stroke-linejoin="round"/>
<polyline points="300.93,270.35 301.86,244.77 302.79,230.81 303.72,228.49 304.65,231.98 305.58,230.81" fill="none" stroke="#f04458" stroke-width="0.95" stroke-linejoin="round" stroke-opacity="0.8"/>
<polyline points="313.26,263.37 314.19,244.77 315.12,223.84 316.28,216.86 317.21,207.56 318.14,219.19" fill="none" stroke="#f04458" stroke-width="0.95" stroke-linejoin="round" stroke-opacity="0.8"/>
<polyline points="325.58,268.02 326.51,244.77 327.44,240.12 328.37,249.42 329.3,244.77 330.23,240.12" fill="none" stroke="#f04458" stroke-width="0.95" stroke-linejoin="round" stroke-opacity="0.8"/>
<polyline points="338.37,259.88 339.3,244.77 340.23,223.84 341.16,222.67 342.33,225 343.26,223.84" fill="none" stroke="#f04458" stroke-width="0.95" stroke-linejoin="round" stroke-opacity="0.8"/>
<polyline points="351.16,271.51 352.09,256.4 353.02,237.79 353.95,221.51 354.88,219.19 356.05,225" fill="none" stroke="#f04458" stroke-width="0.95" stroke-linejoin="round" stroke-opacity="0.8"/>
<polyline points="363.26,268.02 364.19,251.74 365.12,233.14 366.28,221.51 367.44,212.21 368.84,204.07" fill="none" stroke="#f04458" stroke-width="0.95" stroke-linejoin="round" stroke-opacity="0.8"/>
<polyline points="376.28,270.35 377.21,249.42 378.14,226.16 379.07,202.91 380,181.98 380.93,178.49" fill="none" stroke="#f04458" stroke-width="0.95" stroke-linejoin="round" stroke-opacity="0.8"/>
<polyline points="389.07,263.37 390,251.74 390.93,240.12 391.86,228.49 392.79,215.7 393.95,202.91" fill="none" stroke="#f04458" stroke-width="0.95" stroke-linejoin="round" stroke-opacity="0.8"/>
<polyline points="401.4,268.02 402.33,249.42 403.26,228.49 404.19,205.23 405.12,198.26 406.05,214.53" fill="none" stroke="#f04458" stroke-width="0.95" stroke-linejoin="round" stroke-opacity="0.8"/>
<polyline points="426.28,271.51 427.21,263.37 428.14,249.42 429.3,235.47 430.47,216.86 432.09,201.74" fill="none" stroke="#f04458" stroke-width="0.95" stroke-linejoin="round" stroke-opacity="0.8"/>
<polyline points="439.53,263.37 440.47,254.07 441.4,247.09 442.33,242.44 443.26,238.95 444.42,236.63" fill="none" stroke="#f04458" stroke-width="0.95" stroke-linejoin="round" stroke-opacity="0.8"/>
<polyline points="451.86,270.35 452.79,263.37 453.72,251.74 454.88,235.47 456.05,226.16 457.44,220.35" fill="none" stroke="#f04458" stroke-width="0.95" stroke-linejoin="round" stroke-opacity="0.8"/>
<polyline points="464.88,271.51 465.81,258.72 466.74,244.77 467.67,230.81 468.6,223.84 469.53,233.14" fill="none" stroke="#f04458" stroke-width="0.95" stroke-linejoin="round" stroke-opacity="0.8"/>
<polyline points="477.21,265.7 478.14,256.4 479.3,249.42 480.47,244.77 481.63,240.12 482.56,237.79" fill="none" stroke="#f04458" stroke-width="0.95" stroke-linejoin="round" stroke-opacity="0.8"/>
<polyline points="489.77,244.77 490.47,221.51 491.4,205.23 492.33,198.26 493.26,202.91 494.19,213.37" fill="none" stroke="#f04458" stroke-width="0.95" stroke-linejoin="round" stroke-opacity="0.8"/>
<polyline points="502.56,270.35 503.49,256.4 504.42,237.79 505.35,226.16 506.28,216.86 507.21,221.51" fill="none" stroke="#f04458" stroke-width="0.95" stroke-linejoin="round" stroke-opacity="0.8"/>
<polyline points="515.12,261.05 516.05,249.42 516.98,235.47 517.91,223.84 518.84,212.21 519.77,202.91" fill="none" stroke="#f04458" stroke-width="0.95" stroke-linejoin="round" stroke-opacity="0.8"/>
<polyline points="302.79,257.56 315.35,248.95 328.14,260.58 340.7,248.95 353.26,254.77 366.05,247.56 378.6,228.49 391.16,249.42 403.72,233.6" fill="none" stroke="#4646d6" stroke-width="0.6" stroke-linejoin="round" stroke-dasharray="1.3 1"/>
<g fill="#4646d6"><circle cx="302.79" cy="257.56" r="0.85"/><circle cx="315.35" cy="248.95" r="0.85"/><circle cx="328.14" cy="260.58" r="0.85"/><circle cx="340.7" cy="248.95" r="0.85"/><circle cx="353.26" cy="254.77" r="0.85"/><circle cx="366.05" cy="247.56" r="0.85"/><circle cx="378.6" cy="228.49" r="0.85"/><circle cx="391.16" cy="249.42" r="0.85"/><circle cx="403.72" cy="233.6" r="0.85"/></g>
<polyline points="429.07,250.12 441.63,259.88 454.19,259.19 466.98,259.88 479.53,266.16 492.09,222.67 504.88,250.58 517.44,255.23" fill="none" stroke="#4646d6" stroke-width="0.6" stroke-linejoin="round" stroke-dasharray="1.3 1"/>
<g fill="#4646d6"><circle cx="429.07" cy="250.12" r="0.85"/><circle cx="441.63" cy="259.88" r="0.85"/><circle cx="454.19" cy="259.19" r="0.85"/><circle cx="466.98" cy="259.88" r="0.85"/><circle cx="479.53" cy="266.16" r="0.85"/><circle cx="492.09" cy="222.67" r="0.85"/><circle cx="504.88" cy="250.58" r="0.85"/><circle cx="517.44" cy="255.23" r="0.85"/></g>
<polyline points="302.79,243.14 315.35,230.81 328.14,250.58 340.7,235 353.26,242.44 366.05,229.65 378.6,215.7 391.16,228.95 403.72,223.84" fill="none" stroke="#e62535" stroke-width="0.6" stroke-linejoin="round" stroke-dasharray="1.3 1"/>
<g fill="#e62535"><circle cx="302.79" cy="243.14" r="0.85"/><circle cx="315.35" cy="230.81" r="0.85"/><circle cx="328.14" cy="250.58" r="0.85"/><circle cx="340.7" cy="235" r="0.85"/><circle cx="353.26" cy="242.44" r="0.85"/><circle cx="366.05" cy="229.65" r="0.85"/><circle cx="378.6" cy="215.7" r="0.85"/><circle cx="391.16" cy="228.95" r="0.85"/><circle cx="403.72" cy="223.84" r="0.85"/></g>
<polyline points="429.07,240.58 441.63,248.95 454.19,246.63 466.98,247.09 479.53,252.44 492.09,209.42 504.88,235.93 517.44,247.09" fill="none" stroke="#e62535" stroke-width="0.6" stroke-linejoin="round" stroke-dasharray="1.3 1"/>
<g fill="#e62535"><circle cx="429.07" cy="240.58" r="0.85"/><circle cx="441.63" cy="248.95" r="0.85"/><circle cx="454.19" cy="246.63" r="0.85"/><circle cx="466.98" cy="247.09" r="0.85"/><circle cx="479.53" cy="252.44" r="0.85"/><circle cx="492.09" cy="209.42" r="0.85"/><circle cx="504.88" cy="235.93" r="0.85"/><circle cx="517.44" cy="247.09" r="0.85"/></g>
<g font-family="Liberation Sans, sans-serif" font-size="5.6" fill="#333" stroke="#333" stroke-width="0.14" text-anchor="middle"><text x="303.1" y="291.2" textLength="11.1" lengthAdjust="spacingAndGlyphs">2003</text><text x="315.73" y="291.2" textLength="11.1" lengthAdjust="spacingAndGlyphs">2004</text><text x="328.36" y="291.2" textLength="11.1" lengthAdjust="spacingAndGlyphs">2005</text><text x="340.99" y="291.2" textLength="11.1" lengthAdjust="spacingAndGlyphs">2006</text><text x="353.62" y="291.2" textLength="11.1" lengthAdjust="spacingAndGlyphs">2007</text><text x="366.25" y="291.2" textLength="11.1" lengthAdjust="spacingAndGlyphs">2008</text><text x="378.88" y="291.2" textLength="11.1" lengthAdjust="spacingAndGlyphs">2009</text><text x="391.51" y="291.2" textLength="11.1" lengthAdjust="spacingAndGlyphs">2010</text><text x="404.14" y="291.2" textLength="11.1" lengthAdjust="spacingAndGlyphs">2011</text><text x="416.77" y="291.2" textLength="11.1" lengthAdjust="spacingAndGlyphs">2012</text><text x="429.4" y="291.2" textLength="11.1" lengthAdjust="spacingAndGlyphs">2013</text><text x="442.03" y="291.2" textLength="11.1" lengthAdjust="spacingAndGlyphs">2014</text><text x="454.66" y="291.2" textLength="11.1" lengthAdjust="spacingAndGlyphs">2015</text><text x="467.29" y="291.2" textLength="11.1" lengthAdjust="spacingAndGlyphs">2016</text><text x="479.92" y="291.2" textLength="11.1" lengthAdjust="spacingAndGlyphs">2017</text><text x="492.55" y="291.2" textLength="11.1" lengthAdjust="spacingAndGlyphs">2018</text><text x="505.18" y="291.2" textLength="11.1" lengthAdjust="spacingAndGlyphs">2019</text><text x="517.81" y="291.2" textLength="11.1" lengthAdjust="spacingAndGlyphs">2020</text></g>
<g font-family="Liberation Sans, sans-serif" font-size="5.4" fill="#3c3cc8" stroke="#3c3cc8" stroke-width="0.18" text-anchor="end"><text x="299.6" y="285.8">0</text><text x="299.6" y="264.04">2</text><text x="299.6" y="242.28">4</text><text x="299.6" y="220.52">6</text><text x="299.6" y="198.76">8</text><text x="299.6" y="177">10</text></g>
<g font-family="Liberation Sans, sans-serif" font-size="5.4" fill="#e8283a" stroke="#e8283a" stroke-width="0.18"><text x="521.5" y="285.8">0</text><text x="521.5" y="264.04">500</text><text x="521.5" y="242.28">1000</text><text x="521.5" y="220.52">1500</text><text x="521.5" y="198.76">2000</text><text x="521.5" y="177">2500</text></g>
<text x="410.4" y="172.6" font-family="Liberation Sans, sans-serif" font-size="9.2" font-weight="bold" text-anchor="middle" fill="#111" stroke="#111" stroke-width="0.3">Baffin bay</text>
<text x="410.4" y="300.7" font-family="Liberation Sans, sans-serif" font-size="8.1" text-anchor="middle" fill="#333" stroke="#333" stroke-width="0.25">Year</text>
<text transform="translate(290.7,229.5) rotate(-90)" font-family="Liberation Sans, sans-serif" font-size="7.8" text-anchor="middle" fill="#3c3cc8" stroke="#3c3cc8" stroke-width="0.4">Lead fraction (%)</text>
<text transform="translate(541.5,229.5) rotate(-90)" font-family="Liberation Sans, sans-serif" font-size="7.9" text-anchor="middle" fill="#e8283a" stroke="#e8283a" stroke-width="0.4">Total length of detected leads (km)</text>
<text x="413.9" y="313.6" font-family="Liberation Serif, serif" font-size="12" font-weight="bold" text-anchor="middle" fill="#111" stroke="#111" stroke-width="0.25">(i)</text>
<rect x="471" y="176.9" width="47.2" height="22" fill="#fff" stroke="#d0d0d0" stroke-width="0.5"/>
<line x1="471.6" y1="180.2" x2="476.8" y2="180.2" stroke="#4646d6" stroke-width="0.6"/>
<text x="477.5" y="181.7" font-family="Liberation Sans, sans-serif" font-size="4.2" fill="#2a2a2a">Monthly Lead fraction</text>
<line x1="471.6" y1="185.6" x2="476.8" y2="185.6" stroke="#4646d6" stroke-width="0.6" stroke-dasharray="1.4 0.8"/>
<path d="M473.9,184.6 L475.6,185.6 L473.9,186.6Z" fill="#4646d6"/>
<text x="477.5" y="187.1" font-family="Liberation Sans, sans-serif" font-size="4.2" fill="#2a2a2a">Yearly Lead fraction</text>
<line x1="471.6" y1="191" x2="476.8" y2="191" stroke="#e62535" stroke-width="0.6"/>
<text x="477.5" y="192.5" font-family="Liberation Sans, sans-serif" font-size="4.2" fill="#2a2a2a">Monthly total length</text>
<line x1="471.6" y1="196.4" x2="476.8" y2="196.4" stroke="#e62535" stroke-width="0.6" stroke-dasharray="1.4 0.8"/>
<path d="M473.9,195.4 L475.6,196.4 L473.9,197.4Z" fill="#e62535"/>
<text x="477.5" y="197.9" font-family="Liberation Sans, sans-serif" font-size="4.2" fill="#2a2a2a">Yearly total length</text>
<g stroke="#efefef" stroke-width="0.6"><line x1="25" y1="327.8" x2="25" y2="436.6"/><line x1="37.63" y1="327.8" x2="37.63" y2="436.6"/><line x1="50.26" y1="327.8" x2="50.26" y2="436.6"/><line x1="62.89" y1="327.8" x2="62.89" y2="436.6"/><line x1="75.52" y1="327.8" x2="75.52" y2="436.6"/><line x1="88.15" y1="327.8" x2="88.15" y2="436.6"/><line x1="100.78" y1="327.8" x2="100.78" y2="436.6"/><line x1="113.41" y1="327.8" x2="113.41" y2="436.6"/><line x1="126.04" y1="327.8" x2="126.04" y2="436.6"/><line x1="138.67" y1="327.8" x2="138.67" y2="436.6"/><line x1="151.3" y1="327.8" x2="151.3" y2="436.6"/><line x1="163.93" y1="327.8" x2="163.93" y2="436.6"/><line x1="176.56" y1="327.8" x2="176.56" y2="436.6"/><line x1="189.19" y1="327.8" x2="189.19" y2="436.6"/><line x1="201.82" y1="327.8" x2="201.82" y2="436.6"/><line x1="214.45" y1="327.8" x2="214.45" y2="436.6"/><line x1="227.08" y1="327.8" x2="227.08" y2="436.6"/><line x1="239.71" y1="327.8" x2="239.71" y2="436.6"/><line x1="22.7" y1="418.47" x2="242.8" y2="418.47"/><line x1="22.7" y1="400.33" x2="242.8" y2="400.33"/><line x1="22.7" y1="382.2" x2="242.8" y2="382.2"/><line x1="22.7" y1="364.07" x2="242.8" y2="364.07"/><line x1="22.7" y1="345.93" x2="242.8" y2="345.93"/></g>
<line x1="22.7" y1="327.8" x2="242.8" y2="327.8" stroke="#d8d8d8" stroke-width="0.7"/>
<line x1="22.7" y1="436.6" x2="242.8" y2="436.6" stroke="#c8c8c8" stroke-width="0.7"/>
<line x1="22.7" y1="327.8" x2="22.7" y2="436.6" stroke="#c4c4ee" stroke-width="0.7"/>
<line x1="242.8" y1="327.8" x2="242.8" y2="436.6" stroke="#f0c4c8" stroke-width="0.7"/>
<polyline points="23.16,396.6 24.33,398.93 25.26,402.42 26.19,404.74 27.12,409.4 28.28,417.53" fill="none" stroke="#4646d6" stroke-width="0.9" stroke-linejoin="round"/>
<polyline points="35.26,379.16 35.95,374.51 36.88,383.81 37.81,393.12 38.98,404.74 40.14,417.53" fill="none" stroke="#4646d6" stroke-width="0.9" stroke-linejoin="round"/>
<polyline points="48.05,379.16 48.74,388.47 49.44,400.09 50.37,409.4 51.3,407.07 52.7,417.53" fill="none" stroke="#4646d6" stroke-width="0.9" stroke-linejoin="round"/>
<polyline points="60.84,397.77 61.53,407.07 62.47,418.7 63.4,404.74 64.33,386.14 65.26,393.12" fill="none" stroke="#4646d6" stroke-width="0.9" stroke-linejoin="round"/>
<polyline points="73.16,400.09 74.09,404.74 75.02,409.4 75.95,414.05 76.88,418.7 77.81,425.67" fill="none" stroke="#4646d6" stroke-width="0.9" stroke-linejoin="round"/>
<polyline points="86.19,409.4 87.12,411.72 88.05,415.21 88.98,412.88 89.91,414.05 90.84,414.05" fill="none" stroke="#4646d6" stroke-width="0.9" stroke-linejoin="round"/>
<polyline points="98.74,398.93 99.67,402.42 100.6,407.07 101.53,408.23 102.47,409.4 103.4,411.72" fill="none" stroke="#4646d6" stroke-width="0.9" stroke-linejoin="round"/>
<polyline points="111.77,395.44 112.7,397.77 113.63,400.09 114.56,394.28 115.49,397.77 116.42,400.09" fill="none" stroke="#4646d6" stroke-width="0.9" stroke-linejoin="round"/>
<polyline points="123.4,351.26 124.33,369.86 125.26,386.14 126.19,397.77 127.12,411.72 128.51,423.35" fill="none" stroke="#4646d6" stroke-width="0.9" stroke-linejoin="round"/>
<polyline points="149.28,394.28 149.98,387.3 150.91,397.77 151.6,408.23 152.77,395.44 153.93,400.09" fill="none" stroke="#4646d6" stroke-width="0.9" stroke-linejoin="round"/>
<polyline points="161.37,374.51 162.3,386.14 163.23,397.77 164.16,407.07 165.09,400.09 166.26,396.6" fill="none" stroke="#4646d6" stroke-width="0.9" stroke-linejoin="round"/>
<polyline points="173.93,393.12 174.86,402.42 175.79,411.72 176.72,415.21 177.65,418.7 179.05,423.35" fill="none" stroke="#4646d6" stroke-width="0.9" stroke-linejoin="round"/>
<polyline points="186.95,395.44 187.88,400.09 188.81,404.74 189.74,402.42 190.67,407.07 191.6,405.91" fill="none" stroke="#4646d6" stroke-width="0.9" stroke-linejoin="round"/>
<polyline points="199.51,358.23 200.44,374.51 201.37,388.47 202.3,397.77 203.23,404.74 204.16,411.72" fill="none" stroke="#4646d6" stroke-width="0.9" stroke-linejoin="round"/>
<polyline points="212.07,355.91 213,367.53 213.93,379.16 214.86,388.47 215.79,390.79 216.72,389.63" fill="none" stroke="#4646d6" stroke-width="0.9" stroke-linejoin="round"/>
<polyline points="224.86,369.86 225.79,383.81 226.72,393.12 227.65,402.42 228.58,414.05 229.51,421.02" fill="none" stroke="#4646d6" stroke-width="0.9" stroke-linejoin="round"/>
<polyline points="237.65,362.88 238.58,374.51 239.51,388.47 240.44,402.42 241.37,407.07 242.3,411.72" fill="none" stroke="#4646d6" stroke-width="0.9" stroke-linejoin="round"/>
<polyline points="23.16,383.81 24.09,390.79 25.02,395.44 25.95,397.77 26.88,402.42 27.81,407.07" fill="none" stroke="#f04458" stroke-width="0.95" stroke-linejoin="round" stroke-opacity="0.8"/>
<polyline points="35.26,376.84 35.95,361.72 36.88,372.19 37.81,383.81 38.74,395.44 39.67,404.74" fill="none" stroke="#f04458" stroke-width="0.95" stroke-linejoin="round" stroke-opacity="0.8"/>
<polyline points="47.58,369.86 48.28,374.51 49.21,383.81 50.14,395.44 51.07,400.09 52,404.74" fill="none" stroke="#f04458" stroke-width="0.95" stroke-linejoin="round" stroke-opacity="0.8"/>
<polyline points="60.6,387.3 61.53,393.12 62.47,402.42 63.4,404.74 64.33,383.81 65.26,382.65" fill="none" stroke="#f04458" stroke-width="0.95" stroke-linejoin="round" stroke-opacity="0.8"/>
<polyline points="73.16,383.81 74.09,388.47 75.02,395.44 75.95,402.42 76.88,409.4 77.81,418.7" fill="none" stroke="#f04458" stroke-width="0.95" stroke-linejoin="round" stroke-opacity="0.8"/>
<polyline points="85.72,397.77 86.65,401.26 87.58,402.42 88.51,400.09 89.44,402.42 90.37,403.58" fill="none" stroke="#f04458" stroke-width="0.95" stroke-linejoin="round" stroke-opacity="0.8"/>
<polyline points="98.28,379.16 99.21,386.14 100.14,390.79 101.07,395.44 102,397.77 102.93,400.09" fill="none" stroke="#f04458" stroke-width="0.95" stroke-linejoin="round" stroke-opacity="0.8"/>
<polyline points="111.77,379.16 112.7,381.49 113.63,384.98 114.56,382.65 115.49,386.14 116.42,387.3" fill="none" stroke="#f04458" stroke-width="0.95" stroke-linejoin="round" stroke-opacity="0.8"/>
<polyline points="123.16,339.63 124.09,355.91 125.02,374.51 125.95,388.47 127.12,404.74 128.98,414.05" fill="none" stroke="#f04458" stroke-width="0.95" stroke-linejoin="round" stroke-opacity="0.8"/>
<polyline points="149.28,376.84 149.98,369.86 150.91,383.81 151.84,386.14 153,383.81 153.93,386.14" fill="none" stroke="#f04458" stroke-width="0.95" stroke-linejoin="round" stroke-opacity="0.8"/>
<polyline points="161.14,360.56 162.07,374.51 163,383.81 163.93,389.63 164.86,395.44 166.02,397.77" fill="none" stroke="#f04458" stroke-width="0.95" stroke-linejoin="round" stroke-opacity="0.8"/>
<polyline points="173.7,374.51 174.63,386.14 175.56,397.77 176.49,404.74 177.42,409.4 178.35,414.05" fill="none" stroke="#f04458" stroke-width="0.95" stroke-linejoin="round" stroke-opacity="0.8"/>
<polyline points="186.95,373.35 187.88,381.49 188.81,388.47 189.74,393.12 190.67,397.77 191.6,402.42" fill="none" stroke="#f04458" stroke-width="0.95" stroke-linejoin="round" stroke-opacity="0.8"/>
<polyline points="199.28,348.93 200.21,360.56 201.14,372.19 202.07,381.49 203,388.47 203.93,393.12" fill="none" stroke="#f04458" stroke-width="0.95" stroke-linejoin="round" stroke-opacity="0.8"/>
<polyline points="211.84,351.26 212.77,362.88 213.7,372.19 214.63,383.81 215.56,388.47 216.72,386.14" fill="none" stroke="#f04458" stroke-width="0.95" stroke-linejoin="round" stroke-opacity="0.8"/>
<polyline points="224.63,368.7 225.56,379.16 226.49,388.47 227.42,395.44 228.35,402.42 229.28,409.4" fill="none" stroke="#f04458" stroke-width="0.95" stroke-linejoin="round" stroke-opacity="0.8"/>
<polyline points="237.42,353.58 238.35,365.21 239.28,374.51 240.21,381.49 241.37,390.79 242.3,397.77" fill="none" stroke="#f04458" stroke-width="0.95" stroke-linejoin="round" stroke-opacity="0.8"/>
<polyline points="25.02,401.95 37.58,394.74 50.14,402.42 62.93,407.07 75.49,414.05 88.05,414.05 100.84,408.23 113.4,397.77 125.95,396.6" fill="none" stroke="#4646d6" stroke-width="0.6" stroke-linejoin="round" stroke-dasharray="1.3 1"/>
<g fill="#4646d6"><circle cx="25.02" cy="401.95" r="0.85"/><circle cx="37.58" cy="394.74" r="0.85"/><circle cx="50.14" cy="402.42" r="0.85"/><circle cx="62.93" cy="407.07" r="0.85"/><circle cx="75.49" cy="414.05" r="0.85"/><circle cx="88.05" cy="414.05" r="0.85"/><circle cx="100.84" cy="408.23" r="0.85"/><circle cx="113.4" cy="397.77" r="0.85"/><circle cx="125.95" cy="396.6" r="0.85"/></g>
<polyline points="151.14,398.93 163.93,397.3 176.49,411.26 189.05,402.42 201.84,388.47 214.4,381.02 226.95,394.98 239.74,394.98" fill="none" stroke="#4646d6" stroke-width="0.6" stroke-linejoin="round" stroke-dasharray="1.3 1"/>
<g fill="#4646d6"><circle cx="151.14" cy="398.93" r="0.85"/><circle cx="163.93" cy="397.3" r="0.85"/><circle cx="176.49" cy="411.26" r="0.85"/><circle cx="189.05" cy="402.42" r="0.85"/><circle cx="201.84" cy="388.47" r="0.85"/><circle cx="214.4" cy="381.02" r="0.85"/><circle cx="226.95" cy="394.98" r="0.85"/><circle cx="239.74" cy="394.98" r="0.85"/></g>
<polyline points="25.02,391.26 37.58,383.81 50.14,390.79 62.93,394.98 75.49,401.95 88.05,402.42 100.84,392.65 113.4,381.95 125.95,381.95" fill="none" stroke="#e62535" stroke-width="0.6" stroke-linejoin="round" stroke-dasharray="1.3 1"/>
<g fill="#e62535"><circle cx="25.02" cy="391.26" r="0.85"/><circle cx="37.58" cy="383.81" r="0.85"/><circle cx="50.14" cy="390.79" r="0.85"/><circle cx="62.93" cy="394.98" r="0.85"/><circle cx="75.49" cy="401.95" r="0.85"/><circle cx="88.05" cy="402.42" r="0.85"/><circle cx="100.84" cy="392.65" r="0.85"/><circle cx="113.4" cy="381.95" r="0.85"/><circle cx="125.95" cy="381.95" r="0.85"/></g>
<polyline points="151.14,383.81 163.93,383.81 176.49,400.56 189.05,388.47 201.84,371.72 214.4,368 226.95,387.3 239.74,379.63" fill="none" stroke="#e62535" stroke-width="0.6" stroke-linejoin="round" stroke-dasharray="1.3 1"/>
<g fill="#e62535"><circle cx="151.14" cy="383.81" r="0.85"/><circle cx="163.93" cy="383.81" r="0.85"/><circle cx="176.49" cy="400.56" r="0.85"/><circle cx="189.05" cy="388.47" r="0.85"/><circle cx="201.84" cy="371.72" r="0.85"/><circle cx="214.4" cy="368" r="0.85"/><circle cx="226.95" cy="387.3" r="0.85"/><circle cx="239.74" cy="379.63" r="0.85"/></g>
<g font-family="Liberation Sans, sans-serif" font-size="5.6" fill="#333" stroke="#333" stroke-width="0.14" text-anchor="middle"><text x="25" y="443.9" textLength="11.1" lengthAdjust="spacingAndGlyphs">2003</text><text x="37.63" y="443.9" textLength="11.1" lengthAdjust="spacingAndGlyphs">2004</text><text x="50.26" y="443.9" textLength="11.1" lengthAdjust="spacingAndGlyphs">2005</text><text x="62.89" y="443.9" textLength="11.1" lengthAdjust="spacingAndGlyphs">2006</text><text x="75.52" y="443.9" textLength="11.1" lengthAdjust="spacingAndGlyphs">2007</text><text x="88.15" y="443.9" textLength="11.1" lengthAdjust="spacingAndGlyphs">2008</text><text x="100.78" y="443.9" textLength="11.1" lengthAdjust="spacingAndGlyphs">2009</text><text x="113.41" y="443.9" textLength="11.1" lengthAdjust="spacingAndGlyphs">2010</text><text x="126.04" y="443.9" textLength="11.1" lengthAdjust="spacingAndGlyphs">2011</text><text x="138.67" y="443.9" textLength="11.1" lengthAdjust="spacingAndGlyphs">2012</text><text x="151.3" y="443.9" textLength="11.1" lengthAdjust="spacingAndGlyphs">2013</text><text x="163.93" y="443.9" textLength="11.1" lengthAdjust="spacingAndGlyphs">2014</text><text x="176.56" y="443.9" textLength="11.1" lengthAdjust="spacingAndGlyphs">2015</text><text x="189.19" y="443.9" textLength="11.1" lengthAdjust="spacingAndGlyphs">2016</text><text x="201.82" y="443.9" textLength="11.1" lengthAdjust="spacingAndGlyphs">2017</text><text x="214.45" y="443.9" textLength="11.1" lengthAdjust="spacingAndGlyphs">2018</text><text x="227.08" y="443.9" textLength="11.1" lengthAdjust="spacingAndGlyphs">2019</text><text x="239.71" y="443.9" textLength="11.1" lengthAdjust="spacingAndGlyphs">2020</text></g>
<g font-family="Liberation Sans, sans-serif" font-size="5.4" fill="#3c3cc8" stroke="#3c3cc8" stroke-width="0.18" text-anchor="end"><text x="21.5" y="438.5">0</text><text x="21.5" y="420.37">1</text><text x="21.5" y="402.23">2</text><text x="21.5" y="384.1">3</text><text x="21.5" y="365.97">4</text><text x="21.5" y="347.83">5</text><text x="21.5" y="329.7">6</text></g>
<g font-family="Liberation Sans, sans-serif" font-size="5.4" fill="#e8283a" stroke="#e8283a" stroke-width="0.18"><text x="244.3" y="438.5">0</text><text x="244.3" y="420.37">1500</text><text x="244.3" y="402.23">3000</text><text x="244.3" y="384.1">4500</text><text x="244.3" y="365.97">6000</text><text x="244.3" y="347.83">7500</text><text x="244.3" y="329.7">9000</text></g>
<text x="132.75" y="325.3" font-family="Liberation Sans, sans-serif" font-size="9.2" font-weight="bold" text-anchor="middle" fill="#111" stroke="#111" stroke-width="0.3">Central Arctic</text>
<text x="132.75" y="453.4" font-family="Liberation Sans, sans-serif" font-size="8.1" text-anchor="middle" fill="#333" stroke="#333" stroke-width="0.25">Year</text>
<text transform="translate(15.5,382.2) rotate(-90)" font-family="Liberation Sans, sans-serif" font-size="7.8" text-anchor="middle" fill="#3c3cc8" stroke="#3c3cc8" stroke-width="0.4">Lead fraction (%)</text>
<text transform="translate(264.3,382.2) rotate(-90)" font-family="Liberation Sans, sans-serif" font-size="7.9" text-anchor="middle" fill="#e8283a" stroke="#e8283a" stroke-width="0.4">Total length of detected leads (km)</text>
<text x="136.25" y="466.4" font-family="Liberation Serif, serif" font-size="12" font-weight="normal" text-anchor="middle" fill="#111" stroke="#111" stroke-width="0.12">(j)</text>
<rect x="193.8" y="329.6" width="47.2" height="22" fill="#fff" stroke="#d0d0d0" stroke-width="0.5"/>
<line x1="194.4" y1="332.9" x2="199.6" y2="332.9" stroke="#4646d6" stroke-width="0.6"/>
<text x="200.3" y="334.4" font-family="Liberation Sans, sans-serif" font-size="4.2" fill="#2a2a2a">Monthly Lead fraction</text>
<line x1="194.4" y1="338.3" x2="199.6" y2="338.3" stroke="#4646d6" stroke-width="0.6" stroke-dasharray="1.4 0.8"/>
<path d="M196.7,337.3 L198.4,338.3 L196.7,339.3Z" fill="#4646d6"/>
<text x="200.3" y="339.8" font-family="Liberation Sans, sans-serif" font-size="4.2" fill="#2a2a2a">Yearly Lead fraction</text>
<line x1="194.4" y1="343.7" x2="199.6" y2="343.7" stroke="#e62535" stroke-width="0.6"/>
<text x="200.3" y="345.2" font-family="Liberation Sans, sans-serif" font-size="4.2" fill="#2a2a2a">Monthly total length</text>
<line x1="194.4" y1="349.1" x2="199.6" y2="349.1" stroke="#e62535" stroke-width="0.6" stroke-dasharray="1.4 0.8"/>
<path d="M196.7,348.1 L198.4,349.1 L196.7,350.1Z" fill="#e62535"/>
<text x="200.3" y="350.6" font-family="Liberation Sans, sans-serif" font-size="4.2" fill="#2a2a2a">Yearly total length</text>
<g stroke="#efefef" stroke-width="0.6"><line x1="303.1" y1="327.8" x2="303.1" y2="436.6"/><line x1="315.73" y1="327.8" x2="315.73" y2="436.6"/><line x1="328.36" y1="327.8" x2="328.36" y2="436.6"/><line x1="340.99" y1="327.8" x2="340.99" y2="436.6"/><line x1="353.62" y1="327.8" x2="353.62" y2="436.6"/><line x1="366.25" y1="327.8" x2="366.25" y2="436.6"/><line x1="378.88" y1="327.8" x2="378.88" y2="436.6"/><line x1="391.51" y1="327.8" x2="391.51" y2="436.6"/><line x1="404.14" y1="327.8" x2="404.14" y2="436.6"/><line x1="416.77" y1="327.8" x2="416.77" y2="436.6"/><line x1="429.4" y1="327.8" x2="429.4" y2="436.6"/><line x1="442.03" y1="327.8" x2="442.03" y2="436.6"/><line x1="454.66" y1="327.8" x2="454.66" y2="436.6"/><line x1="467.29" y1="327.8" x2="467.29" y2="436.6"/><line x1="479.92" y1="327.8" x2="479.92" y2="436.6"/><line x1="492.55" y1="327.8" x2="492.55" y2="436.6"/><line x1="505.18" y1="327.8" x2="505.18" y2="436.6"/><line x1="517.81" y1="327.8" x2="517.81" y2="436.6"/><line x1="300.8" y1="418.47" x2="520" y2="418.47"/><line x1="300.8" y1="400.33" x2="520" y2="400.33"/><line x1="300.8" y1="382.2" x2="520" y2="382.2"/><line x1="300.8" y1="364.07" x2="520" y2="364.07"/><line x1="300.8" y1="345.93" x2="520" y2="345.93"/></g>
<line x1="300.8" y1="327.8" x2="520" y2="327.8" stroke="#d8d8d8" stroke-width="0.7"/>
<line x1="300.8" y1="436.6" x2="520" y2="436.6" stroke="#c8c8c8" stroke-width="0.7"/>
<line x1="300.8" y1="327.8" x2="300.8" y2="436.6" stroke="#c4c4ee" stroke-width="0.7"/>
<line x1="520" y1="327.8" x2="520" y2="436.6" stroke="#f0c4c8" stroke-width="0.7"/>
<polyline points="300.7,343.12 301.63,351.26 302.56,362.88 303.49,376.84 304.42,388.47 305.58,396.6" fill="none" stroke="#4646d6" stroke-width="0.9" stroke-linejoin="round"/>
<polyline points="313.26,355.91 313.95,365.21 314.88,374.51 315.81,383.81 316.74,393.12 318.14,402.42" fill="none" stroke="#4646d6" stroke-width="0.9" stroke-linejoin="round"/>
<polyline points="325.58,372.19 326.28,379.16 327.21,388.47 328.14,395.44 329.07,402.42 330.23,409.4" fill="none" stroke="#4646d6" stroke-width="0.9" stroke-linejoin="round"/>
<polyline points="338.84,345.44 339.53,353.58 340.47,365.21 341.4,379.16 342.33,395.44 343.26,410.56" fill="none" stroke="#4646d6" stroke-width="0.9" stroke-linejoin="round"/>
<polyline points="351.63,378 352.56,383.81 353.49,390.79 354.42,393.12 355.35,397.77 356.28,404.74" fill="none" stroke="#4646d6" stroke-width="0.9" stroke-linejoin="round"/>
<polyline points="363.72,384.98 364.65,389.63 365.58,395.44 366.51,398.93 367.44,404.74 368.84,416.37" fill="none" stroke="#4646d6" stroke-width="0.9" stroke-linejoin="round"/>
<polyline points="376.74,362.88 377.67,372.19 378.6,383.81 379.53,393.12 380.47,402.42 381.4,411.72" fill="none" stroke="#4646d6" stroke-width="0.9" stroke-linejoin="round"/>
<polyline points="388.84,367.53 389.77,371.02 390.7,376.84 391.63,388.47 392.56,402.42 393.95,416.37" fill="none" stroke="#4646d6" stroke-width="0.9" stroke-linejoin="round"/>
<polyline points="401.63,368.7 402.56,371.02 403.49,374.51 404.42,373.35 405.35,379.16 406.51,397.77" fill="none" stroke="#4646d6" stroke-width="0.9" stroke-linejoin="round"/>
<polyline points="426.74,408.23 427.67,411.72 428.6,415.21 429.53,417.53 430.47,419.86 431.4,423.35" fill="none" stroke="#4646d6" stroke-width="0.9" stroke-linejoin="round"/>
<polyline points="439.53,390.79 440.47,397.77 441.4,404.74 442.33,408.23 443.26,410.56 444.42,414.05" fill="none" stroke="#4646d6" stroke-width="0.9" stroke-linejoin="round"/>
<polyline points="451.86,412.88 452.79,415.21 453.72,418.7 454.65,421.02 455.58,423.35 456.51,425.67" fill="none" stroke="#4646d6" stroke-width="0.9" stroke-linejoin="round"/>
<polyline points="464.65,400.09 465.58,404.74 466.51,411.72 467.44,414.05 468.37,416.37 469.3,418.7" fill="none" stroke="#4646d6" stroke-width="0.9" stroke-linejoin="round"/>
<polyline points="477.44,393.12 478.37,397.77 479.3,404.74 480.23,409.4 481.16,411.72 482.09,414.05" fill="none" stroke="#4646d6" stroke-width="0.9" stroke-linejoin="round"/>
<polyline points="489.77,384.98 490.7,390.79 491.63,397.77 492.56,402.42 493.49,407.07 494.42,409.4" fill="none" stroke="#4646d6" stroke-width="0.9" stroke-linejoin="round"/>
<polyline points="502.56,378 503.49,383.81 504.42,388.47 505.35,393.12 506.28,397.77 507.21,401.26" fill="none" stroke="#4646d6" stroke-width="0.9" stroke-linejoin="round"/>
<polyline points="515.81,404.74 516.74,408.23 517.67,411.72 518.6,416.37 519.53,418.7" fill="none" stroke="#4646d6" stroke-width="0.9" stroke-linejoin="round"/>
<polyline points="300.93,379.16 301.86,382.65 302.79,386.14 303.72,389.63 304.65,393.12 305.58,395.44" fill="none" stroke="#f04458" stroke-width="0.95" stroke-linejoin="round" stroke-opacity="0.8"/>
<polyline points="313.26,382.65 314.19,386.14 315.12,388.47 316.05,393.12 316.98,397.77 318.14,403.58" fill="none" stroke="#f04458" stroke-width="0.95" stroke-linejoin="round" stroke-opacity="0.8"/>
<polyline points="326.05,391.95 326.98,395.44 327.91,400.09 328.84,405.91 329.77,414.05 330.7,421.02" fill="none" stroke="#f04458" stroke-width="0.95" stroke-linejoin="round" stroke-opacity="0.8"/>
<polyline points="339.07,378 340,383.81 340.93,388.47 341.86,395.44 342.79,402.42 343.72,408.23" fill="none" stroke="#f04458" stroke-width="0.95" stroke-linejoin="round" stroke-opacity="0.8"/>
<polyline points="351.16,389.63 352.09,393.12 353.02,395.44 353.95,397.77 354.88,400.09 355.81,403.58" fill="none" stroke="#f04458" stroke-width="0.95" stroke-linejoin="round" stroke-opacity="0.8"/>
<polyline points="363.72,395.44 364.65,398.93 365.58,402.42 366.51,407.07 367.44,409.4 368.84,415.21" fill="none" stroke="#f04458" stroke-width="0.95" stroke-linejoin="round" stroke-opacity="0.8"/>
<polyline points="376.28,384.98 377.21,388.47 378.14,391.95 379.07,395.44 380,400.09 380.93,404.74" fill="none" stroke="#f04458" stroke-width="0.95" stroke-linejoin="round" stroke-opacity="0.8"/>
<polyline points="388.84,390.79 389.77,393.12 390.7,395.44 391.63,398.93 392.56,404.74 393.95,411.72" fill="none" stroke="#f04458" stroke-width="0.95" stroke-linejoin="round" stroke-opacity="0.8"/>
<polyline points="401.63,388.47 402.56,390.79 403.49,389.63 404.42,393.12 405.35,390.79 406.51,395.44" fill="none" stroke="#f04458" stroke-width="0.95" stroke-linejoin="round" stroke-opacity="0.8"/>
<polyline points="426.98,415.21 427.91,416.37 428.84,417.53 429.77,418.7 430.7,419.86 431.4,421.02" fill="none" stroke="#f04458" stroke-width="0.95" stroke-linejoin="round" stroke-opacity="0.8"/>
<polyline points="439.77,408.23 440.7,408.23 441.63,409.4 442.56,410.56 443.49,411.72 444.42,412.88" fill="none" stroke="#f04458" stroke-width="0.95" stroke-linejoin="round" stroke-opacity="0.8"/>
<polyline points="451.4,416.37 452.33,417.53 453.26,418.7 454.19,419.86 455.12,421.02 456.05,421.02" fill="none" stroke="#f04458" stroke-width="0.95" stroke-linejoin="round" stroke-opacity="0.8"/>
<polyline points="465.12,414.05 466.05,415.21 466.98,415.21 467.91,416.37 468.84,417.53 469.53,417.53" fill="none" stroke="#f04458" stroke-width="0.95" stroke-linejoin="round" stroke-opacity="0.8"/>
<polyline points="477.44,404.74 478.37,407.07 479.3,409.4 480.23,410.56 481.16,411.72 482.09,411.72" fill="none" stroke="#f04458" stroke-width="0.95" stroke-linejoin="round" stroke-opacity="0.8"/>
<polyline points="490,403.58 490.93,405.91 491.86,408.23 492.79,411.72 493.72,415.21 494.65,417.53" fill="none" stroke="#f04458" stroke-width="0.95" stroke-linejoin="round" stroke-opacity="0.8"/>
<polyline points="502.56,395.44 503.49,396.6 504.42,397.77 505.35,398.93 506.28,401.26 507.21,403.58" fill="none" stroke="#f04458" stroke-width="0.95" stroke-linejoin="round" stroke-opacity="0.8"/>
<polyline points="515.81,407.07 516.74,409.4 517.67,411.72 518.6,415.21 519.53,417.53" fill="none" stroke="#f04458" stroke-width="0.95" stroke-linejoin="round" stroke-opacity="0.8"/>
<polyline points="302.79,368 315.35,381.02 328.14,395.91 340.7,371.72 353.26,390.79 366.05,398.93 378.6,387.3 391.16,388.93 403.72,380.33" fill="none" stroke="#4646d6" stroke-width="0.6" stroke-linejoin="round" stroke-dasharray="1.3 1"/>
<g fill="#4646d6"><circle cx="302.79" cy="368" r="0.85"/><circle cx="315.35" cy="381.02" r="0.85"/><circle cx="328.14" cy="395.91" r="0.85"/><circle cx="340.7" cy="371.72" r="0.85"/><circle cx="353.26" cy="390.79" r="0.85"/><circle cx="366.05" cy="398.93" r="0.85"/><circle cx="378.6" cy="387.3" r="0.85"/><circle cx="391.16" cy="388.93" r="0.85"/><circle cx="403.72" cy="380.33" r="0.85"/></g>
<polyline points="429.07,415.91 441.63,404.74 454.19,418.23 466.98,413.58 479.53,404.74 492.09,400.09 504.88,388.93 517.44,407.07" fill="none" stroke="#4646d6" stroke-width="0.6" stroke-linejoin="round" stroke-dasharray="1.3 1"/>
<g fill="#4646d6"><circle cx="429.07" cy="415.91" r="0.85"/><circle cx="441.63" cy="404.74" r="0.85"/><circle cx="454.19" cy="418.23" r="0.85"/><circle cx="466.98" cy="413.58" r="0.85"/><circle cx="479.53" cy="404.74" r="0.85"/><circle cx="492.09" cy="400.09" r="0.85"/><circle cx="504.88" cy="388.93" r="0.85"/><circle cx="517.44" cy="407.07" r="0.85"/></g>
<polyline points="302.79,386.6 315.35,391.26 328.14,403.58 340.7,388.93 353.26,396.6 366.05,406.6 378.6,395.91 391.16,400.09 403.72,390.79" fill="none" stroke="#e62535" stroke-width="0.6" stroke-linejoin="round" stroke-dasharray="1.3 1"/>
<g fill="#e62535"><circle cx="302.79" cy="386.6" r="0.85"/><circle cx="315.35" cy="391.26" r="0.85"/><circle cx="328.14" cy="403.58" r="0.85"/><circle cx="340.7" cy="388.93" r="0.85"/><circle cx="353.26" cy="396.6" r="0.85"/><circle cx="366.05" cy="406.6" r="0.85"/><circle cx="378.6" cy="395.91" r="0.85"/><circle cx="391.16" cy="400.09" r="0.85"/><circle cx="403.72" cy="390.79" r="0.85"/></g>
<polyline points="429.07,416.84 441.63,408.23 454.19,418.7 466.98,414.05 479.53,412.19 492.09,409.86 504.88,400.09 517.44,408.23" fill="none" stroke="#e62535" stroke-width="0.6" stroke-linejoin="round" stroke-dasharray="1.3 1"/>
<g fill="#e62535"><circle cx="429.07" cy="416.84" r="0.85"/><circle cx="441.63" cy="408.23" r="0.85"/><circle cx="454.19" cy="418.7" r="0.85"/><circle cx="466.98" cy="414.05" r="0.85"/><circle cx="479.53" cy="412.19" r="0.85"/><circle cx="492.09" cy="409.86" r="0.85"/><circle cx="504.88" cy="400.09" r="0.85"/><circle cx="517.44" cy="408.23" r="0.85"/></g>
<g font-family="Liberation Sans, sans-serif" font-size="5.6" fill="#333" stroke="#333" stroke-width="0.14" text-anchor="middle"><text x="303.1" y="443.9" textLength="11.1" lengthAdjust="spacingAndGlyphs">2003</text><text x="315.73" y="443.9" textLength="11.1" lengthAdjust="spacingAndGlyphs">2004</text><text x="328.36" y="443.9" textLength="11.1" lengthAdjust="spacingAndGlyphs">2005</text><text x="340.99" y="443.9" textLength="11.1" lengthAdjust="spacingAndGlyphs">2006</text><text x="353.62" y="443.9" textLength="11.1" lengthAdjust="spacingAndGlyphs">2007</text><text x="366.25" y="443.9" textLength="11.1" lengthAdjust="spacingAndGlyphs">2008</text><text x="378.88" y="443.9" textLength="11.1" lengthAdjust="spacingAndGlyphs">2009</text><text x="391.51" y="443.9" textLength="11.1" lengthAdjust="spacingAndGlyphs">2010</text><text x="404.14" y="443.9" textLength="11.1" lengthAdjust="spacingAndGlyphs">2011</text><text x="416.77" y="443.9" textLength="11.1" lengthAdjust="spacingAndGlyphs">2012</text><text x="429.4" y="443.9" textLength="11.1" lengthAdjust="spacingAndGlyphs">2013</text><text x="442.03" y="443.9" textLength="11.1" lengthAdjust="spacingAndGlyphs">2014</text><text x="454.66" y="443.9" textLength="11.1" lengthAdjust="spacingAndGlyphs">2015</text><text x="467.29" y="443.9" textLength="11.1" lengthAdjust="spacingAndGlyphs">2016</text><text x="479.92" y="443.9" textLength="11.1" lengthAdjust="spacingAndGlyphs">2017</text><text x="492.55" y="443.9" textLength="11.1" lengthAdjust="spacingAndGlyphs">2018</text><text x="505.18" y="443.9" textLength="11.1" lengthAdjust="spacingAndGlyphs">2019</text><text x="517.81" y="443.9" textLength="11.1" lengthAdjust="spacingAndGlyphs">2020</text></g>
<g font-family="Liberation Sans, sans-serif" font-size="5.4" fill="#3c3cc8" stroke="#3c3cc8" stroke-width="0.18" text-anchor="end"><text x="299.6" y="438.5">0</text><text x="299.6" y="420.37">1</text><text x="299.6" y="402.23">2</text><text x="299.6" y="384.1">3</text><text x="299.6" y="365.97">4</text><text x="299.6" y="347.83">5</text><text x="299.6" y="329.7">6</text></g>
<g font-family="Liberation Sans, sans-serif" font-size="5.4" fill="#e8283a" stroke="#e8283a" stroke-width="0.18"><text x="521.5" y="438.5">0</text><text x="521.5" y="420.37">400</text><text x="521.5" y="402.23">800</text><text x="521.5" y="384.1">1200</text><text x="521.5" y="365.97">1600</text><text x="521.5" y="347.83">2000</text><text x="521.5" y="329.7">2400</text></g>
<text x="410.4" y="325.3" font-family="Liberation Sans, sans-serif" font-size="9.2" font-weight="bold" text-anchor="middle" fill="#111" stroke="#111" stroke-width="0.3">Canadian Archipelago</text>
<text x="410.4" y="453.4" font-family="Liberation Sans, sans-serif" font-size="8.1" text-anchor="middle" fill="#333" stroke="#333" stroke-width="0.25">Year</text>
<text transform="translate(293.6,382.2) rotate(-90)" font-family="Liberation Sans, sans-serif" font-size="7.8" text-anchor="middle" fill="#3c3cc8" stroke="#3c3cc8" stroke-width="0.4">Lead fraction (%)</text>
<text transform="translate(541.5,382.2) rotate(-90)" font-family="Liberation Sans, sans-serif" font-size="7.9" text-anchor="middle" fill="#e8283a" stroke="#e8283a" stroke-width="0.4">Total length of detected leads (km)</text>
<text x="413.9" y="466.4" font-family="Liberation Serif, serif" font-size="12" font-weight="bold" text-anchor="middle" fill="#111" stroke="#111" stroke-width="0.25">(k)</text>
<rect x="471" y="329.6" width="47.2" height="22" fill="#fff" stroke="#d0d0d0" stroke-width="0.5"/>
<line x1="471.6" y1="332.9" x2="476.8" y2="332.9" stroke="#4646d6" stroke-width="0.6"/>
<text x="477.5" y="334.4" font-family="Liberation Sans, sans-serif" font-size="4.2" fill="#2a2a2a">Monthly Lead fraction</text>
<line x1="471.6" y1="338.3" x2="476.8" y2="338.3" stroke="#4646d6" stroke-width="0.6" stroke-dasharray="1.4 0.8"/>
<path d="M473.9,337.3 L475.6,338.3 L473.9,339.3Z" fill="#4646d6"/>
<text x="477.5" y="339.8" font-family="Liberation Sans, sans-serif" font-size="4.2" fill="#2a2a2a">Yearly Lead fraction</text>
<line x1="471.6" y1="343.7" x2="476.8" y2="343.7" stroke="#e62535" stroke-width="0.6"/>
<text x="477.5" y="345.2" font-family="Liberation Sans, sans-serif" font-size="4.2" fill="#2a2a2a">Monthly total length</text>
<line x1="471.6" y1="349.1" x2="476.8" y2="349.1" stroke="#e62535" stroke-width="0.6" stroke-dasharray="1.4 0.8"/>
<path d="M473.9,348.1 L475.6,349.1 L473.9,350.1Z" fill="#e62535"/>
<text x="477.5" y="350.6" font-family="Liberation Sans, sans-serif" font-size="4.2" fill="#2a2a2a">Yearly total length</text>
</svg></body></html>
